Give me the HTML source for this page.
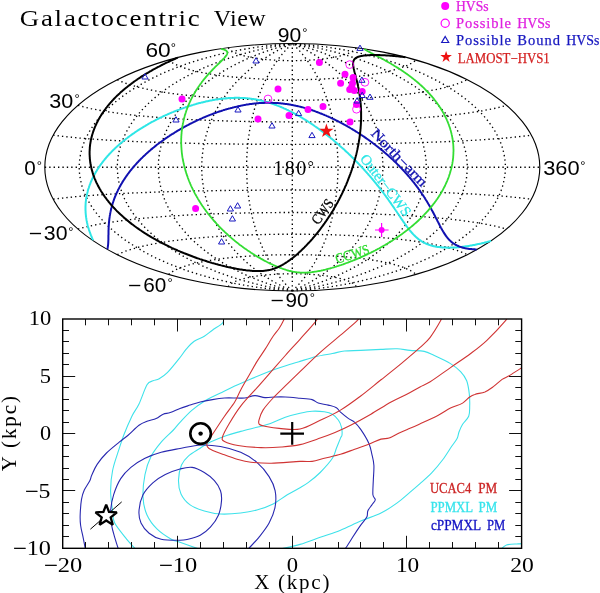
<!DOCTYPE html>
<html><head><meta charset="utf-8"><title>Galactocentric View</title>
<style>html,body{margin:0;padding:0;background:#fff;}svg{display:block;}</style></head>
<body><svg width="600" height="593" viewBox="0 0 600 593">
<rect width="600" height="593" fill="#fff"/>
<path d="M228.2,286.7 L228.5,286.3 L228.8,285.9 L229.1,285.5 L229.4,285.1 L229.8,284.8 L230.3,284.4 L230.8,284.0 L231.3,283.6 L231.8,283.3 L232.4,282.9 L233.0,282.6 L233.7,282.2 L234.4,281.9 L235.1,281.5 L235.9,281.2 L236.6,280.9 L237.5,280.6 L238.3,280.3 L239.2,280.0 L240.1,279.7 L241.0,279.4 L242.0,279.1 L243.0,278.8 L244.0,278.6 L245.1,278.3 L246.1,278.0 L247.2,277.8 L248.4,277.6 L249.5,277.3 L250.7,277.1 L251.8,276.9 L253.0,276.7 L254.3,276.5 L255.5,276.3 L256.8,276.1 L258.1,275.9 L259.4,275.7 L260.7,275.5 L262.0,275.4 L263.4,275.2 L264.7,275.1 L266.1,274.9 L267.5,274.8 L268.9,274.7 L270.3,274.6 L271.7,274.5 L273.1,274.4 L274.6,274.3 L276.0,274.2 L277.5,274.1 L278.9,274.0 L280.4,274.0 L281.9,273.9 L283.4,273.9 L284.8,273.8 L286.3,273.8 L287.8,273.8 L289.3,273.7 L290.8,273.7 L292.3,273.7 L293.8,273.7 L295.3,273.7 L296.8,273.8 L298.3,273.8 L299.8,273.8 L301.2,273.9 L302.7,273.9 L304.2,274.0 L305.7,274.0 L307.1,274.1 L308.6,274.2 L310.0,274.3 L311.5,274.4 L312.9,274.5 L314.3,274.6 L315.7,274.7 L317.1,274.8 L318.5,274.9 L319.9,275.1 L321.2,275.2 L322.6,275.4 L323.9,275.5 L325.2,275.7 L326.5,275.9 L327.8,276.1 L329.1,276.3 L330.3,276.5 L331.6,276.7 L332.8,276.9 L333.9,277.1 L335.1,277.3 L336.2,277.6 L337.4,277.8 L338.5,278.0 L339.5,278.3 L340.6,278.6 L341.6,278.8 L342.6,279.1 L343.6,279.4 L344.5,279.7 L345.4,280.0 L346.3,280.3 L347.1,280.6 L348.0,280.9 L348.7,281.2 L349.5,281.5 L350.2,281.9 L350.9,282.2 L351.6,282.6 L352.2,282.9 L352.8,283.3 L353.3,283.6 L353.8,284.0 L354.3,284.4 L354.8,284.8 L355.2,285.1 L355.5,285.5 L355.8,285.9 L356.1,286.3 L356.4,286.7 M168.6,274.4 L169.4,273.7 L170.3,273.0 L171.3,272.3 L172.3,271.7 L173.4,271.0 L174.6,270.4 L175.8,269.8 L177.1,269.2 L178.4,268.6 L179.8,268.0 L181.3,267.5 L182.8,266.9 L184.3,266.4 L185.9,265.9 L187.6,265.4 L189.2,264.9 L191.0,264.4 L192.8,263.9 L194.6,263.5 L196.4,263.1 L198.4,262.6 L200.3,262.2 L202.3,261.8 L204.3,261.4 L206.3,261.0 L208.4,260.7 L210.5,260.3 L212.7,260.0 L214.9,259.6 L217.1,259.3 L219.3,259.0 L221.6,258.7 L223.9,258.4 L226.2,258.1 L228.6,257.9 L230.9,257.6 L233.3,257.4 L235.7,257.2 L238.2,256.9 L240.6,256.7 L243.1,256.5 L245.6,256.3 L248.1,256.2 L250.6,256.0 L253.1,255.8 L255.7,255.7 L258.2,255.5 L260.8,255.4 L263.4,255.3 L266.0,255.2 L268.6,255.1 L271.2,255.0 L273.8,254.9 L276.5,254.9 L279.1,254.8 L281.7,254.8 L284.4,254.7 L287.0,254.7 L289.7,254.7 L292.3,254.7 L294.9,254.7 L297.6,254.7 L300.2,254.7 L302.9,254.8 L305.5,254.8 L308.1,254.9 L310.8,254.9 L313.4,255.0 L316.0,255.1 L318.6,255.2 L321.2,255.3 L323.8,255.4 L326.4,255.5 L328.9,255.7 L331.5,255.8 L334.0,256.0 L336.5,256.2 L339.0,256.3 L341.5,256.5 L344.0,256.7 L346.4,256.9 L348.9,257.2 L351.3,257.4 L353.7,257.6 L356.0,257.9 L358.4,258.1 L360.7,258.4 L363.0,258.7 L365.3,259.0 L367.5,259.3 L369.7,259.6 L371.9,260.0 L374.1,260.3 L376.2,260.7 L378.3,261.0 L380.3,261.4 L382.3,261.8 L384.3,262.2 L386.2,262.6 L388.2,263.1 L390.0,263.5 L391.8,263.9 L393.6,264.4 L395.4,264.9 L397.0,265.4 L398.7,265.9 L400.3,266.4 L401.8,266.9 L403.3,267.5 L404.8,268.0 L406.2,268.6 L407.5,269.2 L408.8,269.8 L410.0,270.4 L411.2,271.0 L412.3,271.7 L413.3,272.3 L414.3,273.0 L415.2,273.7 L416.0,274.4 M117.3,254.7 L119.0,253.9 L120.7,253.1 L122.5,252.4 L124.4,251.6 L126.3,250.9 L128.3,250.2 L130.3,249.6 L132.5,248.9 L134.7,248.3 L136.9,247.6 L139.2,247.0 L141.5,246.5 L143.9,245.9 L146.4,245.4 L148.9,244.8 L151.4,244.3 L154.0,243.8 L156.6,243.3 L159.3,242.9 L162.0,242.4 L164.8,242.0 L167.6,241.5 L170.4,241.1 L173.3,240.7 L176.2,240.4 L179.2,240.0 L182.1,239.6 L185.2,239.3 L188.2,239.0 L191.3,238.6 L194.4,238.3 L197.5,238.0 L200.6,237.8 L203.8,237.5 L207.0,237.2 L210.3,237.0 L213.5,236.8 L216.8,236.5 L220.1,236.3 L223.4,236.1 L226.7,235.9 L230.1,235.7 L233.4,235.6 L236.8,235.4 L240.2,235.3 L243.6,235.1 L247.0,235.0 L250.5,234.9 L253.9,234.7 L257.4,234.6 L260.9,234.6 L264.3,234.5 L267.8,234.4 L271.3,234.3 L274.8,234.3 L278.3,234.2 L281.8,234.2 L285.3,234.2 L288.8,234.2 L292.3,234.2 L295.8,234.2 L299.3,234.2 L302.8,234.2 L306.3,234.2 L309.8,234.3 L313.3,234.3 L316.8,234.4 L320.3,234.5 L323.7,234.6 L327.2,234.6 L330.7,234.7 L334.1,234.9 L337.6,235.0 L341.0,235.1 L344.4,235.3 L347.8,235.4 L351.2,235.6 L354.5,235.7 L357.9,235.9 L361.2,236.1 L364.5,236.3 L367.8,236.5 L371.1,236.8 L374.3,237.0 L377.6,237.2 L380.8,237.5 L384.0,237.8 L387.1,238.0 L390.2,238.3 L393.3,238.6 L396.4,239.0 L399.4,239.3 L402.5,239.6 L405.4,240.0 L408.4,240.4 L411.3,240.7 L414.2,241.1 L417.0,241.5 L419.8,242.0 L422.6,242.4 L425.3,242.9 L428.0,243.3 L430.6,243.8 L433.2,244.3 L435.7,244.8 L438.2,245.4 L440.7,245.9 L443.1,246.5 L445.4,247.0 L447.7,247.6 L449.9,248.3 L452.1,248.9 L454.3,249.6 L456.3,250.2 L458.3,250.9 L460.2,251.6 L462.1,252.4 L463.9,253.1 L465.6,253.9 L467.3,254.7 M78.0,229.1 L80.4,228.4 L83.0,227.7 L85.5,227.1 L88.2,226.4 L90.9,225.8 L93.6,225.3 L96.4,224.7 L99.3,224.2 L102.2,223.6 L105.2,223.1 L108.2,222.6 L111.3,222.2 L114.4,221.7 L117.5,221.3 L120.7,220.8 L123.9,220.4 L127.2,220.0 L130.5,219.6 L133.9,219.2 L137.2,218.9 L140.7,218.5 L144.1,218.2 L147.6,217.9 L151.1,217.6 L154.7,217.3 L158.3,217.0 L161.9,216.7 L165.6,216.4 L169.2,216.2 L172.9,215.9 L176.7,215.7 L180.4,215.5 L184.2,215.2 L188.0,215.0 L191.8,214.8 L195.7,214.6 L199.6,214.5 L203.5,214.3 L207.4,214.1 L211.3,214.0 L215.2,213.8 L219.2,213.7 L223.2,213.6 L227.2,213.4 L231.2,213.3 L235.2,213.2 L239.2,213.1 L243.3,213.0 L247.3,212.9 L251.4,212.9 L255.4,212.8 L259.5,212.7 L263.6,212.7 L267.7,212.6 L271.8,212.6 L275.9,212.6 L280.0,212.5 L284.1,212.5 L288.2,212.5 L292.3,212.5 L296.4,212.5 L300.5,212.5 L304.6,212.5 L308.7,212.6 L312.8,212.6 L316.9,212.6 L321.0,212.7 L325.1,212.7 L329.2,212.8 L333.2,212.9 L337.3,212.9 L341.3,213.0 L345.4,213.1 L349.4,213.2 L353.4,213.3 L357.4,213.4 L361.4,213.6 L365.4,213.7 L369.4,213.8 L373.3,214.0 L377.2,214.1 L381.1,214.3 L385.0,214.5 L388.9,214.6 L392.8,214.8 L396.6,215.0 L400.4,215.2 L404.2,215.5 L407.9,215.7 L411.7,215.9 L415.4,216.2 L419.0,216.4 L422.7,216.7 L426.3,217.0 L429.9,217.3 L433.5,217.6 L437.0,217.9 L440.5,218.2 L443.9,218.5 L447.4,218.9 L450.7,219.2 L454.1,219.6 L457.4,220.0 L460.7,220.4 L463.9,220.8 L467.1,221.3 L470.2,221.7 L473.3,222.2 L476.4,222.6 L479.4,223.1 L482.4,223.6 L485.3,224.2 L488.2,224.7 L491.0,225.3 L493.7,225.8 L496.4,226.4 L499.1,227.1 L501.6,227.7 L504.2,228.4 L506.6,229.1 M53.2,199.2 L56.3,198.8 L59.4,198.4 L62.5,198.1 L65.7,197.7 L69.0,197.4 L72.2,197.1 L75.6,196.7 L78.9,196.4 L82.3,196.1 L85.8,195.8 L89.3,195.6 L92.8,195.3 L96.3,195.1 L99.9,194.8 L103.6,194.6 L107.3,194.3 L111.0,194.1 L114.7,193.9 L118.5,193.7 L122.3,193.5 L126.1,193.3 L130.0,193.1 L133.9,192.9 L137.8,192.8 L141.8,192.6 L145.8,192.5 L149.8,192.3 L153.8,192.2 L157.9,192.0 L162.0,191.9 L166.1,191.8 L170.3,191.6 L174.4,191.5 L178.6,191.4 L182.8,191.3 L187.0,191.2 L191.3,191.1 L195.5,191.0 L199.8,190.9 L204.1,190.8 L208.4,190.8 L212.7,190.7 L217.1,190.6 L221.4,190.5 L225.8,190.5 L230.2,190.4 L234.6,190.4 L239.0,190.3 L243.4,190.3 L247.8,190.2 L252.2,190.2 L256.7,190.2 L261.1,190.1 L265.5,190.1 L270.0,190.1 L274.5,190.1 L278.9,190.1 L283.4,190.0 L287.8,190.0 L292.3,190.0 L296.8,190.0 L301.2,190.0 L305.7,190.1 L310.1,190.1 L314.6,190.1 L319.1,190.1 L323.5,190.1 L327.9,190.2 L332.4,190.2 L336.8,190.2 L341.2,190.3 L345.6,190.3 L350.0,190.4 L354.4,190.4 L358.8,190.5 L363.2,190.5 L367.5,190.6 L371.9,190.7 L376.2,190.8 L380.5,190.8 L384.8,190.9 L389.1,191.0 L393.3,191.1 L397.6,191.2 L401.8,191.3 L406.0,191.4 L410.2,191.5 L414.3,191.6 L418.5,191.8 L422.6,191.9 L426.7,192.0 L430.8,192.2 L434.8,192.3 L438.8,192.5 L442.8,192.6 L446.8,192.8 L450.7,192.9 L454.6,193.1 L458.5,193.3 L462.3,193.5 L466.1,193.7 L469.9,193.9 L473.6,194.1 L477.3,194.3 L481.0,194.6 L484.7,194.8 L488.3,195.1 L491.8,195.3 L495.3,195.6 L498.8,195.8 L502.3,196.1 L505.7,196.4 L509.0,196.7 L512.4,197.1 L515.6,197.4 L518.9,197.7 L522.1,198.1 L525.2,198.4 L528.3,198.8 L531.4,199.2 M44.8,167.2 L48.1,167.2 L51.4,167.2 L54.7,167.2 L58.1,167.2 L61.5,167.2 L65.0,167.2 L68.5,167.2 L72.0,167.2 L75.6,167.2 L79.2,167.2 L82.9,167.2 L86.6,167.2 L90.3,167.2 L94.1,167.2 L97.9,167.2 L101.7,167.2 L105.5,167.2 L109.4,167.2 L113.3,167.2 L117.3,167.2 L121.3,167.2 L125.3,167.2 L129.3,167.2 L133.4,167.2 L137.5,167.2 L141.6,167.2 L145.8,167.2 L149.9,167.2 L154.1,167.2 L158.4,167.2 L162.6,167.2 L166.9,167.2 L171.2,167.2 L175.5,167.2 L179.8,167.2 L184.1,167.2 L188.5,167.2 L192.9,167.2 L197.3,167.2 L201.7,167.2 L206.1,167.2 L210.6,167.2 L215.1,167.2 L219.5,167.2 L224.0,167.2 L228.5,167.2 L233.0,167.2 L237.5,167.2 L242.1,167.2 L246.6,167.2 L251.2,167.2 L255.7,167.2 L260.3,167.2 L264.8,167.2 L269.4,167.2 L274.0,167.2 L278.6,167.2 L283.1,167.2 L287.7,167.2 L292.3,167.2 L296.9,167.2 L301.5,167.2 L306.0,167.2 L310.6,167.2 L315.2,167.2 L319.8,167.2 L324.3,167.2 L328.9,167.2 L333.4,167.2 L338.0,167.2 L342.5,167.2 L347.1,167.2 L351.6,167.2 L356.1,167.2 L360.6,167.2 L365.1,167.2 L369.5,167.2 L374.0,167.2 L378.5,167.2 L382.9,167.2 L387.3,167.2 L391.7,167.2 L396.1,167.2 L400.5,167.2 L404.8,167.2 L409.1,167.2 L413.4,167.2 L417.7,167.2 L422.0,167.2 L426.2,167.2 L430.5,167.2 L434.7,167.2 L438.8,167.2 L443.0,167.2 L447.1,167.2 L451.2,167.2 L455.3,167.2 L459.3,167.2 L463.3,167.2 L467.3,167.2 L471.3,167.2 L475.2,167.2 L479.1,167.2 L482.9,167.2 L486.7,167.2 L490.5,167.2 L494.3,167.2 L498.0,167.2 L501.7,167.2 L505.4,167.2 L509.0,167.2 L512.6,167.2 L516.1,167.2 L519.6,167.2 L523.1,167.2 L526.5,167.2 L529.9,167.2 L533.2,167.2 L536.5,167.2 L539.8,167.2 M53.2,135.2 L56.3,135.6 L59.4,136.0 L62.5,136.3 L65.7,136.7 L69.0,137.0 L72.2,137.3 L75.6,137.7 L78.9,138.0 L82.3,138.3 L85.8,138.6 L89.3,138.8 L92.8,139.1 L96.3,139.3 L99.9,139.6 L103.6,139.8 L107.3,140.1 L111.0,140.3 L114.7,140.5 L118.5,140.7 L122.3,140.9 L126.1,141.1 L130.0,141.3 L133.9,141.5 L137.8,141.6 L141.8,141.8 L145.8,141.9 L149.8,142.1 L153.8,142.2 L157.9,142.4 L162.0,142.5 L166.1,142.6 L170.3,142.8 L174.4,142.9 L178.6,143.0 L182.8,143.1 L187.0,143.2 L191.3,143.3 L195.5,143.4 L199.8,143.5 L204.1,143.6 L208.4,143.6 L212.7,143.7 L217.1,143.8 L221.4,143.9 L225.8,143.9 L230.2,144.0 L234.6,144.0 L239.0,144.1 L243.4,144.1 L247.8,144.2 L252.2,144.2 L256.7,144.2 L261.1,144.3 L265.5,144.3 L270.0,144.3 L274.5,144.3 L278.9,144.3 L283.4,144.4 L287.8,144.4 L292.3,144.4 L296.8,144.4 L301.2,144.4 L305.7,144.3 L310.1,144.3 L314.6,144.3 L319.1,144.3 L323.5,144.3 L327.9,144.2 L332.4,144.2 L336.8,144.2 L341.2,144.1 L345.6,144.1 L350.0,144.0 L354.4,144.0 L358.8,143.9 L363.2,143.9 L367.5,143.8 L371.9,143.7 L376.2,143.6 L380.5,143.6 L384.8,143.5 L389.1,143.4 L393.3,143.3 L397.6,143.2 L401.8,143.1 L406.0,143.0 L410.2,142.9 L414.3,142.8 L418.5,142.6 L422.6,142.5 L426.7,142.4 L430.8,142.2 L434.8,142.1 L438.8,141.9 L442.8,141.8 L446.8,141.6 L450.7,141.5 L454.6,141.3 L458.5,141.1 L462.3,140.9 L466.1,140.7 L469.9,140.5 L473.6,140.3 L477.3,140.1 L481.0,139.8 L484.7,139.6 L488.3,139.3 L491.8,139.1 L495.3,138.8 L498.8,138.6 L502.3,138.3 L505.7,138.0 L509.0,137.7 L512.4,137.3 L515.6,137.0 L518.9,136.7 L522.1,136.3 L525.2,136.0 L528.3,135.6 L531.4,135.2 M78.0,105.3 L80.4,106.0 L83.0,106.7 L85.5,107.3 L88.2,108.0 L90.9,108.6 L93.6,109.1 L96.4,109.7 L99.3,110.2 L102.2,110.8 L105.2,111.3 L108.2,111.8 L111.3,112.2 L114.4,112.7 L117.5,113.1 L120.7,113.6 L123.9,114.0 L127.2,114.4 L130.5,114.8 L133.9,115.2 L137.2,115.5 L140.7,115.9 L144.1,116.2 L147.6,116.5 L151.1,116.8 L154.7,117.1 L158.3,117.4 L161.9,117.7 L165.6,118.0 L169.2,118.2 L172.9,118.5 L176.7,118.7 L180.4,118.9 L184.2,119.2 L188.0,119.4 L191.8,119.6 L195.7,119.8 L199.6,119.9 L203.5,120.1 L207.4,120.3 L211.3,120.4 L215.2,120.6 L219.2,120.7 L223.2,120.8 L227.2,121.0 L231.2,121.1 L235.2,121.2 L239.2,121.3 L243.3,121.4 L247.3,121.5 L251.4,121.5 L255.4,121.6 L259.5,121.7 L263.6,121.7 L267.7,121.8 L271.8,121.8 L275.9,121.8 L280.0,121.9 L284.1,121.9 L288.2,121.9 L292.3,121.9 L296.4,121.9 L300.5,121.9 L304.6,121.9 L308.7,121.8 L312.8,121.8 L316.9,121.8 L321.0,121.7 L325.1,121.7 L329.2,121.6 L333.2,121.5 L337.3,121.5 L341.3,121.4 L345.4,121.3 L349.4,121.2 L353.4,121.1 L357.4,121.0 L361.4,120.8 L365.4,120.7 L369.4,120.6 L373.3,120.4 L377.2,120.3 L381.1,120.1 L385.0,119.9 L388.9,119.8 L392.8,119.6 L396.6,119.4 L400.4,119.2 L404.2,118.9 L407.9,118.7 L411.7,118.5 L415.4,118.2 L419.0,118.0 L422.7,117.7 L426.3,117.4 L429.9,117.1 L433.5,116.8 L437.0,116.5 L440.5,116.2 L443.9,115.9 L447.4,115.5 L450.7,115.2 L454.1,114.8 L457.4,114.4 L460.7,114.0 L463.9,113.6 L467.1,113.1 L470.2,112.7 L473.3,112.2 L476.4,111.8 L479.4,111.3 L482.4,110.8 L485.3,110.2 L488.2,109.7 L491.0,109.1 L493.7,108.6 L496.4,108.0 L499.1,107.3 L501.6,106.7 L504.2,106.0 L506.6,105.3 M117.3,79.7 L119.0,80.5 L120.7,81.3 L122.5,82.0 L124.4,82.8 L126.3,83.5 L128.3,84.2 L130.3,84.8 L132.5,85.5 L134.7,86.1 L136.9,86.8 L139.2,87.4 L141.5,87.9 L143.9,88.5 L146.4,89.0 L148.9,89.6 L151.4,90.1 L154.0,90.6 L156.6,91.1 L159.3,91.5 L162.0,92.0 L164.8,92.4 L167.6,92.9 L170.4,93.3 L173.3,93.7 L176.2,94.0 L179.2,94.4 L182.1,94.8 L185.2,95.1 L188.2,95.4 L191.3,95.8 L194.4,96.1 L197.5,96.4 L200.6,96.6 L203.8,96.9 L207.0,97.2 L210.3,97.4 L213.5,97.6 L216.8,97.9 L220.1,98.1 L223.4,98.3 L226.7,98.5 L230.1,98.7 L233.4,98.8 L236.8,99.0 L240.2,99.1 L243.6,99.3 L247.0,99.4 L250.5,99.5 L253.9,99.7 L257.4,99.8 L260.9,99.8 L264.3,99.9 L267.8,100.0 L271.3,100.1 L274.8,100.1 L278.3,100.2 L281.8,100.2 L285.3,100.2 L288.8,100.2 L292.3,100.2 L295.8,100.2 L299.3,100.2 L302.8,100.2 L306.3,100.2 L309.8,100.1 L313.3,100.1 L316.8,100.0 L320.3,99.9 L323.7,99.8 L327.2,99.8 L330.7,99.7 L334.1,99.5 L337.6,99.4 L341.0,99.3 L344.4,99.1 L347.8,99.0 L351.2,98.8 L354.5,98.7 L357.9,98.5 L361.2,98.3 L364.5,98.1 L367.8,97.9 L371.1,97.6 L374.3,97.4 L377.6,97.2 L380.8,96.9 L384.0,96.6 L387.1,96.4 L390.2,96.1 L393.3,95.8 L396.4,95.4 L399.4,95.1 L402.5,94.8 L405.4,94.4 L408.4,94.0 L411.3,93.7 L414.2,93.3 L417.0,92.9 L419.8,92.4 L422.6,92.0 L425.3,91.5 L428.0,91.1 L430.6,90.6 L433.2,90.1 L435.7,89.6 L438.2,89.0 L440.7,88.5 L443.1,87.9 L445.4,87.4 L447.7,86.8 L449.9,86.1 L452.1,85.5 L454.3,84.8 L456.3,84.2 L458.3,83.5 L460.2,82.8 L462.1,82.0 L463.9,81.3 L465.6,80.5 L467.3,79.7 M168.6,60.0 L169.4,60.7 L170.3,61.4 L171.3,62.1 L172.3,62.7 L173.4,63.4 L174.6,64.0 L175.8,64.6 L177.1,65.2 L178.4,65.8 L179.8,66.4 L181.3,66.9 L182.8,67.5 L184.3,68.0 L185.9,68.5 L187.6,69.0 L189.2,69.5 L191.0,70.0 L192.8,70.5 L194.6,70.9 L196.4,71.3 L198.4,71.8 L200.3,72.2 L202.3,72.6 L204.3,73.0 L206.3,73.4 L208.4,73.7 L210.5,74.1 L212.7,74.4 L214.9,74.8 L217.1,75.1 L219.3,75.4 L221.6,75.7 L223.9,76.0 L226.2,76.3 L228.6,76.5 L230.9,76.8 L233.3,77.0 L235.7,77.2 L238.2,77.5 L240.6,77.7 L243.1,77.9 L245.6,78.1 L248.1,78.2 L250.6,78.4 L253.1,78.6 L255.7,78.7 L258.2,78.9 L260.8,79.0 L263.4,79.1 L266.0,79.2 L268.6,79.3 L271.2,79.4 L273.8,79.5 L276.5,79.5 L279.1,79.6 L281.7,79.6 L284.4,79.7 L287.0,79.7 L289.7,79.7 L292.3,79.7 L294.9,79.7 L297.6,79.7 L300.2,79.7 L302.9,79.6 L305.5,79.6 L308.1,79.5 L310.8,79.5 L313.4,79.4 L316.0,79.3 L318.6,79.2 L321.2,79.1 L323.8,79.0 L326.4,78.9 L328.9,78.7 L331.5,78.6 L334.0,78.4 L336.5,78.2 L339.0,78.1 L341.5,77.9 L344.0,77.7 L346.4,77.5 L348.9,77.2 L351.3,77.0 L353.7,76.8 L356.0,76.5 L358.4,76.3 L360.7,76.0 L363.0,75.7 L365.3,75.4 L367.5,75.1 L369.7,74.8 L371.9,74.4 L374.1,74.1 L376.2,73.7 L378.3,73.4 L380.3,73.0 L382.3,72.6 L384.3,72.2 L386.2,71.8 L388.2,71.3 L390.0,70.9 L391.8,70.5 L393.6,70.0 L395.4,69.5 L397.0,69.0 L398.7,68.5 L400.3,68.0 L401.8,67.5 L403.3,66.9 L404.8,66.4 L406.2,65.8 L407.5,65.2 L408.8,64.6 L410.0,64.0 L411.2,63.4 L412.3,62.7 L413.3,62.1 L414.3,61.4 L415.2,60.7 L416.0,60.0 M228.2,47.7 L228.5,48.1 L228.8,48.5 L229.1,48.9 L229.4,49.3 L229.8,49.6 L230.3,50.0 L230.8,50.4 L231.3,50.8 L231.8,51.1 L232.4,51.5 L233.0,51.8 L233.7,52.2 L234.4,52.5 L235.1,52.9 L235.9,53.2 L236.6,53.5 L237.5,53.8 L238.3,54.1 L239.2,54.4 L240.1,54.7 L241.0,55.0 L242.0,55.3 L243.0,55.6 L244.0,55.8 L245.1,56.1 L246.1,56.4 L247.2,56.6 L248.4,56.8 L249.5,57.1 L250.7,57.3 L251.8,57.5 L253.0,57.7 L254.3,57.9 L255.5,58.1 L256.8,58.3 L258.1,58.5 L259.4,58.7 L260.7,58.9 L262.0,59.0 L263.4,59.2 L264.7,59.3 L266.1,59.5 L267.5,59.6 L268.9,59.7 L270.3,59.8 L271.7,59.9 L273.1,60.0 L274.6,60.1 L276.0,60.2 L277.5,60.3 L278.9,60.4 L280.4,60.4 L281.9,60.5 L283.4,60.5 L284.8,60.6 L286.3,60.6 L287.8,60.6 L289.3,60.7 L290.8,60.7 L292.3,60.7 L293.8,60.7 L295.3,60.7 L296.8,60.6 L298.3,60.6 L299.8,60.6 L301.2,60.5 L302.7,60.5 L304.2,60.4 L305.7,60.4 L307.1,60.3 L308.6,60.2 L310.0,60.1 L311.5,60.0 L312.9,59.9 L314.3,59.8 L315.7,59.7 L317.1,59.6 L318.5,59.5 L319.9,59.3 L321.2,59.2 L322.6,59.0 L323.9,58.9 L325.2,58.7 L326.5,58.5 L327.8,58.3 L329.1,58.1 L330.3,57.9 L331.6,57.7 L332.8,57.5 L333.9,57.3 L335.1,57.1 L336.2,56.8 L337.4,56.6 L338.5,56.4 L339.5,56.1 L340.6,55.8 L341.6,55.6 L342.6,55.3 L343.6,55.0 L344.5,54.7 L345.4,54.4 L346.3,54.1 L347.1,53.8 L348.0,53.5 L348.7,53.2 L349.5,52.9 L350.2,52.5 L350.9,52.2 L351.6,51.8 L352.2,51.5 L352.8,51.1 L353.3,50.8 L353.8,50.4 L354.3,50.0 L354.8,49.6 L355.2,49.3 L355.5,48.9 L355.8,48.5 L356.1,48.1 L356.4,47.7 M292.3,290.9 L284.0,290.3 L275.7,289.5 L267.6,288.6 L259.6,287.6 L251.7,286.4 L243.8,285.1 L236.2,283.7 L228.6,282.1 L221.2,280.4 L213.9,278.6 L206.8,276.7 L199.8,274.7 L193.0,272.6 L186.3,270.4 L179.8,268.0 L173.5,265.6 L167.3,263.1 L161.4,260.5 L155.6,257.8 L150.0,255.0 L144.6,252.1 L139.4,249.1 L134.4,246.1 L129.6,243.0 L125.0,239.9 L120.6,236.6 L116.4,233.3 L112.5,230.0 L108.7,226.6 L105.2,223.1 L101.9,219.6 L98.8,216.1 L95.9,212.5 L93.2,208.8 L90.8,205.2 L88.6,201.5 L86.7,197.7 L84.9,194.0 L83.4,190.2 L82.1,186.4 L81.1,182.6 L80.3,178.7 L79.7,174.9 L79.3,171.0 L79.2,167.2 L79.3,163.4 L79.7,159.5 L80.3,155.7 L81.1,151.8 L82.1,148.0 L83.4,144.2 L84.9,140.4 L86.7,136.7 L88.6,132.9 L90.8,129.2 L93.2,125.6 L95.9,121.9 L98.8,118.3 L101.9,114.8 L105.2,111.3 L108.7,107.8 L112.5,104.4 L116.4,101.1 L120.6,97.8 L125.0,94.5 L129.6,91.4 L134.4,88.3 L139.4,85.3 L144.6,82.3 L150.0,79.4 L155.6,76.6 L161.4,73.9 L167.3,71.3 L173.5,68.8 L179.8,66.4 L186.3,64.0 L193.0,61.8 L199.8,59.7 L206.8,57.7 L213.9,55.8 L221.2,54.0 L228.6,52.3 L236.2,50.7 L243.8,49.3 L251.7,48.0 L259.6,46.8 L267.6,45.8 L275.7,44.9 L284.0,44.1 L292.3,43.5 M292.3,290.9 L284.8,289.8 L277.6,288.5 L270.4,287.2 L263.4,285.7 L256.6,284.1 L249.9,282.4 L243.3,280.6 L236.9,278.7 L230.6,276.7 L224.5,274.6 L218.6,272.5 L212.8,270.2 L207.2,267.9 L201.7,265.5 L196.4,263.0 L191.3,260.5 L186.3,257.9 L181.5,255.2 L176.9,252.5 L172.4,249.7 L168.1,246.8 L164.0,243.9 L160.1,240.9 L156.3,237.9 L152.7,234.8 L149.2,231.7 L146.0,228.6 L142.9,225.4 L140.0,222.1 L137.2,218.9 L134.7,215.6 L132.3,212.3 L130.1,208.9 L128.0,205.5 L126.2,202.1 L124.5,198.7 L123.0,195.2 L121.7,191.8 L120.5,188.3 L119.5,184.8 L118.7,181.3 L118.1,177.8 L117.7,174.3 L117.4,170.7 L117.3,167.2 L117.4,163.7 L117.7,160.1 L118.1,156.6 L118.7,153.1 L119.5,149.6 L120.5,146.1 L121.7,142.6 L123.0,139.2 L124.5,135.7 L126.2,132.3 L128.0,128.9 L130.1,125.5 L132.3,122.1 L134.7,118.8 L137.2,115.5 L140.0,112.3 L142.9,109.0 L146.0,105.8 L149.2,102.7 L152.7,99.6 L156.3,96.5 L160.1,93.5 L164.0,90.5 L168.1,87.6 L172.4,84.7 L176.9,81.9 L181.5,79.2 L186.3,76.5 L191.3,73.9 L196.4,71.4 L201.7,68.9 L207.2,66.5 L212.8,64.2 L218.6,61.9 L224.5,59.8 L230.6,57.7 L236.9,55.7 L243.3,53.8 L249.9,52.0 L256.6,50.3 L263.4,48.7 L270.4,47.2 L277.6,45.9 L284.8,44.6 L292.3,43.5 M292.3,290.9 L286.2,289.4 L280.4,287.7 L274.6,285.9 L269.0,284.1 L263.6,282.2 L258.3,280.2 L253.2,278.1 L248.2,276.0 L243.3,273.8 L238.6,271.5 L234.0,269.2 L229.6,266.8 L225.3,264.4 L221.1,261.9 L217.1,259.3 L213.2,256.7 L209.4,254.0 L205.8,251.3 L202.4,248.6 L199.0,245.8 L195.8,243.0 L192.7,240.1 L189.8,237.2 L187.0,234.2 L184.3,231.3 L181.8,228.2 L179.4,225.2 L177.1,222.1 L175.0,219.0 L172.9,215.9 L171.1,212.8 L169.3,209.6 L167.7,206.4 L166.2,203.2 L164.8,200.0 L163.6,196.8 L162.5,193.5 L161.5,190.3 L160.7,187.0 L160.0,183.7 L159.4,180.4 L158.9,177.1 L158.6,173.8 L158.4,170.5 L158.4,167.2 L158.4,163.9 L158.6,160.6 L158.9,157.3 L159.4,154.0 L160.0,150.7 L160.7,147.4 L161.5,144.1 L162.5,140.9 L163.6,137.6 L164.8,134.4 L166.2,131.2 L167.7,128.0 L169.3,124.8 L171.1,121.6 L172.9,118.5 L175.0,115.4 L177.1,112.3 L179.4,109.2 L181.8,106.2 L184.3,103.1 L187.0,100.2 L189.8,97.2 L192.7,94.3 L195.8,91.4 L199.0,88.6 L202.4,85.8 L205.8,83.1 L209.4,80.4 L213.2,77.7 L217.1,75.1 L221.1,72.5 L225.3,70.0 L229.6,67.6 L234.0,65.2 L238.6,62.9 L243.3,60.6 L248.2,58.4 L253.2,56.3 L258.3,54.2 L263.6,52.2 L269.0,50.3 L274.6,48.5 L280.4,46.7 L286.2,45.0 L292.3,43.5 M292.3,290.9 L288.0,289.0 L283.9,287.1 L279.9,285.0 L276.0,283.0 L272.2,280.8 L268.6,278.6 L265.1,276.4 L261.6,274.1 L258.3,271.7 L255.1,269.3 L252.0,266.9 L249.0,264.4 L246.1,261.9 L243.3,259.3 L240.6,256.7 L238.0,254.1 L235.5,251.4 L233.1,248.7 L230.8,245.9 L228.5,243.2 L226.4,240.4 L224.4,237.5 L222.4,234.7 L220.6,231.8 L218.8,228.9 L217.1,225.9 L215.5,223.0 L214.0,220.0 L212.6,217.0 L211.3,214.0 L210.0,210.9 L208.9,207.9 L207.8,204.8 L206.9,201.7 L206.0,198.6 L205.2,195.5 L204.4,192.4 L203.8,189.3 L203.2,186.1 L202.8,183.0 L202.4,179.8 L202.1,176.7 L201.9,173.5 L201.8,170.4 L201.7,167.2 L201.8,164.0 L201.9,160.9 L202.1,157.7 L202.4,154.6 L202.8,151.4 L203.2,148.3 L203.8,145.1 L204.4,142.0 L205.2,138.9 L206.0,135.8 L206.9,132.7 L207.8,129.6 L208.9,126.5 L210.0,123.5 L211.3,120.4 L212.6,117.4 L214.0,114.4 L215.5,111.4 L217.1,108.5 L218.8,105.5 L220.6,102.6 L222.4,99.7 L224.4,96.9 L226.4,94.0 L228.5,91.2 L230.8,88.5 L233.1,85.7 L235.5,83.0 L238.0,80.3 L240.6,77.7 L243.3,75.1 L246.1,72.5 L249.0,70.0 L252.0,67.5 L255.1,65.1 L258.3,62.7 L261.6,60.3 L265.1,58.0 L268.6,55.8 L272.2,53.6 L276.0,51.4 L279.9,49.4 L283.9,47.3 L288.0,45.4 L292.3,43.5 M292.3,290.9 L290.1,288.8 L288.0,286.7 L285.9,284.5 L283.9,282.2 L282.0,280.0 L280.1,277.6 L278.3,275.3 L276.6,272.9 L274.9,270.5 L273.3,268.0 L271.7,265.5 L270.2,263.0 L268.8,260.4 L267.4,257.8 L266.0,255.2 L264.7,252.5 L263.4,249.9 L262.2,247.1 L261.1,244.4 L260.0,241.6 L258.9,238.9 L257.9,236.1 L256.9,233.2 L256.0,230.4 L255.1,227.5 L254.3,224.6 L253.5,221.7 L252.7,218.8 L252.0,215.8 L251.4,212.9 L250.7,209.9 L250.2,206.9 L249.6,203.9 L249.2,200.9 L248.7,197.8 L248.3,194.8 L248.0,191.8 L247.6,188.7 L247.4,185.6 L247.1,182.6 L247.0,179.5 L246.8,176.4 L246.7,173.4 L246.6,170.3 L246.6,167.2 L246.6,164.1 L246.7,161.0 L246.8,158.0 L247.0,154.9 L247.1,151.8 L247.4,148.8 L247.6,145.7 L248.0,142.6 L248.3,139.6 L248.7,136.6 L249.2,133.5 L249.6,130.5 L250.2,127.5 L250.7,124.5 L251.4,121.5 L252.0,118.6 L252.7,115.6 L253.5,112.7 L254.3,109.8 L255.1,106.9 L256.0,104.0 L256.9,101.2 L257.9,98.3 L258.9,95.5 L260.0,92.8 L261.1,90.0 L262.2,87.3 L263.4,84.5 L264.7,81.9 L266.0,79.2 L267.4,76.6 L268.8,74.0 L270.2,71.4 L271.7,68.9 L273.3,66.4 L274.9,63.9 L276.6,61.5 L278.3,59.1 L280.1,56.8 L282.0,54.4 L283.9,52.2 L285.9,49.9 L288.0,47.7 L290.1,45.6 L292.3,43.5 M292.3,290.9 L292.3,288.8 L292.3,286.5 L292.3,284.3 L292.3,282.0 L292.3,279.7 L292.3,277.3 L292.3,274.9 L292.3,272.5 L292.3,270.1 L292.3,267.6 L292.3,265.0 L292.3,262.5 L292.3,259.9 L292.3,257.3 L292.3,254.7 L292.3,252.0 L292.3,249.3 L292.3,246.6 L292.3,243.9 L292.3,241.2 L292.3,238.4 L292.3,235.6 L292.3,232.7 L292.3,229.9 L292.3,227.0 L292.3,224.2 L292.3,221.3 L292.3,218.4 L292.3,215.4 L292.3,212.5 L292.3,209.5 L292.3,206.6 L292.3,203.6 L292.3,200.6 L292.3,197.6 L292.3,194.6 L292.3,191.6 L292.3,188.5 L292.3,185.5 L292.3,182.5 L292.3,179.4 L292.3,176.4 L292.3,173.3 L292.3,170.3 L292.3,167.2 L292.3,164.1 L292.3,161.1 L292.3,158.0 L292.3,155.0 L292.3,151.9 L292.3,148.9 L292.3,145.9 L292.3,142.8 L292.3,139.8 L292.3,136.8 L292.3,133.8 L292.3,130.8 L292.3,127.8 L292.3,124.9 L292.3,121.9 L292.3,119.0 L292.3,116.0 L292.3,113.1 L292.3,110.2 L292.3,107.4 L292.3,104.5 L292.3,101.7 L292.3,98.8 L292.3,96.0 L292.3,93.2 L292.3,90.5 L292.3,87.8 L292.3,85.1 L292.3,82.4 L292.3,79.7 L292.3,77.1 L292.3,74.5 L292.3,71.9 L292.3,69.4 L292.3,66.8 L292.3,64.3 L292.3,61.9 L292.3,59.5 L292.3,57.1 L292.3,54.7 L292.3,52.4 L292.3,50.1 L292.3,47.9 L292.3,45.6 L292.3,43.5 M292.3,290.9 L294.5,288.8 L296.6,286.7 L298.7,284.5 L300.7,282.2 L302.6,280.0 L304.5,277.6 L306.3,275.3 L308.0,272.9 L309.7,270.5 L311.3,268.0 L312.9,265.5 L314.4,263.0 L315.8,260.4 L317.2,257.8 L318.6,255.2 L319.9,252.5 L321.2,249.9 L322.4,247.1 L323.5,244.4 L324.6,241.6 L325.7,238.9 L326.7,236.1 L327.7,233.2 L328.6,230.4 L329.5,227.5 L330.3,224.6 L331.1,221.7 L331.9,218.8 L332.6,215.8 L333.2,212.9 L333.9,209.9 L334.4,206.9 L335.0,203.9 L335.4,200.9 L335.9,197.8 L336.3,194.8 L336.6,191.8 L337.0,188.7 L337.2,185.6 L337.5,182.6 L337.6,179.5 L337.8,176.4 L337.9,173.4 L338.0,170.3 L338.0,167.2 L338.0,164.1 L337.9,161.0 L337.8,158.0 L337.6,154.9 L337.5,151.8 L337.2,148.8 L337.0,145.7 L336.6,142.6 L336.3,139.6 L335.9,136.6 L335.4,133.5 L335.0,130.5 L334.4,127.5 L333.9,124.5 L333.2,121.5 L332.6,118.6 L331.9,115.6 L331.1,112.7 L330.3,109.8 L329.5,106.9 L328.6,104.0 L327.7,101.2 L326.7,98.3 L325.7,95.5 L324.6,92.8 L323.5,90.0 L322.4,87.3 L321.2,84.5 L319.9,81.9 L318.6,79.2 L317.2,76.6 L315.8,74.0 L314.4,71.4 L312.9,68.9 L311.3,66.4 L309.7,63.9 L308.0,61.5 L306.3,59.1 L304.5,56.8 L302.6,54.4 L300.7,52.2 L298.7,49.9 L296.6,47.7 L294.5,45.6 L292.3,43.5 M292.3,290.9 L296.6,289.0 L300.7,287.1 L304.7,285.0 L308.6,283.0 L312.4,280.8 L316.0,278.6 L319.5,276.4 L323.0,274.1 L326.3,271.7 L329.5,269.3 L332.6,266.9 L335.6,264.4 L338.5,261.9 L341.3,259.3 L344.0,256.7 L346.6,254.1 L349.1,251.4 L351.5,248.7 L353.8,245.9 L356.1,243.2 L358.2,240.4 L360.2,237.5 L362.2,234.7 L364.0,231.8 L365.8,228.9 L367.5,225.9 L369.1,223.0 L370.6,220.0 L372.0,217.0 L373.3,214.0 L374.6,210.9 L375.7,207.9 L376.8,204.8 L377.7,201.7 L378.6,198.6 L379.4,195.5 L380.2,192.4 L380.8,189.3 L381.4,186.1 L381.8,183.0 L382.2,179.8 L382.5,176.7 L382.7,173.5 L382.8,170.4 L382.9,167.2 L382.8,164.0 L382.7,160.9 L382.5,157.7 L382.2,154.6 L381.8,151.4 L381.4,148.3 L380.8,145.1 L380.2,142.0 L379.4,138.9 L378.6,135.8 L377.7,132.7 L376.8,129.6 L375.7,126.5 L374.6,123.5 L373.3,120.4 L372.0,117.4 L370.6,114.4 L369.1,111.4 L367.5,108.5 L365.8,105.5 L364.0,102.6 L362.2,99.7 L360.2,96.9 L358.2,94.0 L356.1,91.2 L353.8,88.5 L351.5,85.7 L349.1,83.0 L346.6,80.3 L344.0,77.7 L341.3,75.1 L338.5,72.5 L335.6,70.0 L332.6,67.5 L329.5,65.1 L326.3,62.7 L323.0,60.3 L319.5,58.0 L316.0,55.8 L312.4,53.6 L308.6,51.4 L304.7,49.4 L300.7,47.3 L296.6,45.4 L292.3,43.5 M292.3,290.9 L298.4,289.4 L304.2,287.7 L310.0,285.9 L315.6,284.1 L321.0,282.2 L326.3,280.2 L331.4,278.1 L336.4,276.0 L341.3,273.8 L346.0,271.5 L350.6,269.2 L355.0,266.8 L359.3,264.4 L363.5,261.9 L367.5,259.3 L371.4,256.7 L375.2,254.0 L378.8,251.3 L382.2,248.6 L385.6,245.8 L388.8,243.0 L391.9,240.1 L394.8,237.2 L397.6,234.2 L400.3,231.3 L402.8,228.2 L405.2,225.2 L407.5,222.1 L409.6,219.0 L411.7,215.9 L413.5,212.8 L415.3,209.6 L416.9,206.4 L418.4,203.2 L419.8,200.0 L421.0,196.8 L422.1,193.5 L423.1,190.3 L423.9,187.0 L424.6,183.7 L425.2,180.4 L425.7,177.1 L426.0,173.8 L426.2,170.5 L426.2,167.2 L426.2,163.9 L426.0,160.6 L425.7,157.3 L425.2,154.0 L424.6,150.7 L423.9,147.4 L423.1,144.1 L422.1,140.9 L421.0,137.6 L419.8,134.4 L418.4,131.2 L416.9,128.0 L415.3,124.8 L413.5,121.6 L411.7,118.5 L409.6,115.4 L407.5,112.3 L405.2,109.2 L402.8,106.2 L400.3,103.1 L397.6,100.2 L394.8,97.2 L391.9,94.3 L388.8,91.4 L385.6,88.6 L382.2,85.8 L378.8,83.1 L375.2,80.4 L371.4,77.7 L367.5,75.1 L363.5,72.5 L359.3,70.0 L355.0,67.6 L350.6,65.2 L346.0,62.9 L341.3,60.6 L336.4,58.4 L331.4,56.3 L326.3,54.2 L321.0,52.2 L315.6,50.3 L310.0,48.5 L304.2,46.7 L298.4,45.0 L292.3,43.5 M292.3,290.9 L299.8,289.8 L307.0,288.5 L314.2,287.2 L321.2,285.7 L328.0,284.1 L334.7,282.4 L341.3,280.6 L347.7,278.7 L354.0,276.7 L360.1,274.6 L366.0,272.5 L371.8,270.2 L377.4,267.9 L382.9,265.5 L388.2,263.0 L393.3,260.5 L398.3,257.9 L403.1,255.2 L407.7,252.5 L412.2,249.7 L416.5,246.8 L420.6,243.9 L424.5,240.9 L428.3,237.9 L431.9,234.8 L435.4,231.7 L438.6,228.6 L441.7,225.4 L444.6,222.1 L447.4,218.9 L449.9,215.6 L452.3,212.3 L454.5,208.9 L456.6,205.5 L458.4,202.1 L460.1,198.7 L461.6,195.2 L462.9,191.8 L464.1,188.3 L465.1,184.8 L465.9,181.3 L466.5,177.8 L466.9,174.3 L467.2,170.7 L467.3,167.2 L467.2,163.7 L466.9,160.1 L466.5,156.6 L465.9,153.1 L465.1,149.6 L464.1,146.1 L462.9,142.6 L461.6,139.2 L460.1,135.7 L458.4,132.3 L456.6,128.9 L454.5,125.5 L452.3,122.1 L449.9,118.8 L447.4,115.5 L444.6,112.3 L441.7,109.0 L438.6,105.8 L435.4,102.7 L431.9,99.6 L428.3,96.5 L424.5,93.5 L420.6,90.5 L416.5,87.6 L412.2,84.7 L407.7,81.9 L403.1,79.2 L398.3,76.5 L393.3,73.9 L388.2,71.4 L382.9,68.9 L377.4,66.5 L371.8,64.2 L366.0,61.9 L360.1,59.8 L354.0,57.7 L347.7,55.7 L341.3,53.8 L334.7,52.0 L328.0,50.3 L321.2,48.7 L314.2,47.2 L307.0,45.9 L299.8,44.6 L292.3,43.5 M292.3,290.9 L300.6,290.3 L308.9,289.5 L317.0,288.6 L325.0,287.6 L332.9,286.4 L340.8,285.1 L348.4,283.7 L356.0,282.1 L363.4,280.4 L370.7,278.6 L377.8,276.7 L384.8,274.7 L391.6,272.6 L398.3,270.4 L404.8,268.0 L411.1,265.6 L417.3,263.1 L423.2,260.5 L429.0,257.8 L434.6,255.0 L440.0,252.1 L445.2,249.1 L450.2,246.1 L455.0,243.0 L459.6,239.9 L464.0,236.6 L468.2,233.3 L472.1,230.0 L475.9,226.6 L479.4,223.1 L482.7,219.6 L485.8,216.1 L488.7,212.5 L491.4,208.8 L493.8,205.2 L496.0,201.5 L497.9,197.7 L499.7,194.0 L501.2,190.2 L502.5,186.4 L503.5,182.6 L504.3,178.7 L504.9,174.9 L505.3,171.0 L505.4,167.2 L505.3,163.4 L504.9,159.5 L504.3,155.7 L503.5,151.8 L502.5,148.0 L501.2,144.2 L499.7,140.4 L497.9,136.7 L496.0,132.9 L493.8,129.2 L491.4,125.6 L488.7,121.9 L485.8,118.3 L482.7,114.8 L479.4,111.3 L475.9,107.8 L472.1,104.4 L468.2,101.1 L464.0,97.8 L459.6,94.5 L455.0,91.4 L450.2,88.3 L445.2,85.3 L440.0,82.3 L434.6,79.4 L429.0,76.6 L423.2,73.9 L417.3,71.3 L411.1,68.8 L404.8,66.4 L398.3,64.0 L391.6,61.8 L384.8,59.7 L377.8,57.7 L370.7,55.8 L363.4,54.0 L356.0,52.3 L348.4,50.7 L340.8,49.3 L332.9,48.0 L325.0,46.8 L317.0,45.8 L308.9,44.9 L300.6,44.1 L292.3,43.5" stroke="#000" stroke-width="1.35" fill="none" stroke-dasharray="1.35 3.05" stroke-linecap="butt"/>
<ellipse cx="292.30" cy="167.20" rx="247.49" ry="123.74" fill="none" stroke="#000" stroke-width="1.1"/>
<path d="M93.1,240.3 L92.9,239.7 L92.6,239.1 L92.4,238.6 L92.1,238.0 L91.8,237.4 L91.6,236.8 L91.4,236.2 L91.1,235.6 L90.9,235.0 L90.6,234.4 L90.4,233.8 L90.2,233.2 L90.0,232.6 L89.7,231.9 L89.5,231.3 L89.3,230.7 L89.1,230.1 L88.9,229.5 L88.7,228.8 L88.5,228.2 L88.3,227.6 L88.1,227.0 L88.0,226.3 L87.8,225.7 L87.6,225.0 L87.5,224.4 L87.3,223.8 L87.2,223.1 L87.0,222.5 L86.9,221.8 L86.8,221.2 L86.6,220.5 L86.5,219.9 L86.4,219.2 L86.3,218.5 L86.2,217.9 L86.1,217.2 L86.0,216.6 L85.9,215.9 L85.9,215.2 L85.8,214.6 L85.7,213.9 L85.7,213.2 L85.6,212.6 L85.6,211.9 L85.6,211.2 L85.5,210.6 L85.5,209.9 L85.5,209.2 L85.5,208.5 L85.5,207.9 L85.5,207.2 L85.5,206.5 L85.5,205.8 L85.6,205.2 L85.6,204.5 L85.6,203.8 L85.7,203.1 L85.7,202.4 L85.8,201.7 L85.9,201.1 L86.0,200.4 L86.0,199.7 L86.1,199.0 L86.2,198.3 L86.3,197.7 L86.5,197.0 L86.6,196.3 L86.7,195.6 L86.9,194.9 L87.0,194.2 L87.2,193.5 L87.3,192.9 L87.5,192.2 L87.7,191.5 L87.8,190.8 L88.0,190.1 L88.2,189.4 L88.4,188.8 L88.7,188.1 L88.9,187.4 L89.1,186.7 L89.3,186.0 L89.6,185.3 L89.8,184.7 L90.1,184.0 L90.4,183.3 L90.6,182.6 L90.9,181.9 L91.2,181.3 L91.5,180.6 L91.8,179.9 L92.1,179.2 L92.4,178.5 L92.7,177.9 L93.1,177.2 L93.4,176.5 L93.8,175.9 L94.1,175.2 L94.5,174.5 L94.8,173.8 L95.2,173.2 L95.6,172.5 L96.0,171.8 L96.4,171.2 L96.8,170.5 L97.2,169.8 L97.6,169.2 L98.1,168.5 L98.5,167.9 L98.9,167.2 L99.4,166.5 L99.8,165.9 L100.3,165.2 L100.8,164.6 L101.2,163.9 L101.7,163.3 L102.2,162.6 L102.7,162.0 L103.2,161.3 L103.7,160.7 L104.2,160.1 L104.7,159.4 L105.3,158.8 L105.8,158.1 L106.3,157.5 L106.9,156.9 L107.4,156.2 L108.0,155.6 L108.6,155.0 L109.1,154.3 L109.7,153.7 L110.3,153.1 L110.9,152.5 L111.5,151.9 L112.1,151.2 L112.7,150.6 L113.3,150.0 L113.9,149.4 L114.6,148.8 L115.2,148.2 L115.8,147.6 L116.5,147.0 L117.1,146.4 L117.8,145.8 L118.5,145.2 L119.1,144.6 L119.8,144.0 L120.5,143.4 L121.2,142.8 L121.9,142.3 L122.6,141.7 L123.3,141.1 L124.0,140.5 L124.7,140.0 L125.4,139.4 L126.1,138.8 L126.8,138.3 L127.6,137.7 L128.3,137.1 L129.1,136.6 L129.8,136.0 L130.6,135.5 L131.3,134.9 L132.1,134.4 L132.8,133.8 L133.6,133.3 L134.4,132.8 L135.2,132.2 L136.0,131.7 L136.7,131.2 L137.5,130.6 L138.3,130.1 L139.1,129.6 L139.9,129.1 L140.7,128.6 L141.6,128.1 L142.4,127.6 L143.2,127.1 L144.0,126.6 L144.9,126.1 L145.7,125.6 L146.5,125.1 L147.4,124.6 L148.2,124.1 L149.0,123.6 L149.9,123.2 L150.7,122.7 L151.6,122.2 L152.5,121.7 L153.3,121.3 L154.2,120.8 L155.1,120.4 L155.9,119.9 L156.8,119.5 L157.7,119.0 L158.6,118.6 L159.4,118.1 L160.3,117.7 L161.2,117.3 L162.1,116.9 L163.0,116.4 L163.9,116.0 L164.8,115.6 L165.7,115.2 L166.6,114.8 L167.5,114.4 L168.4,114.0 L169.3,113.6 L170.2,113.2 L171.1,112.8 L172.0,112.4 L172.9,112.1 L173.8,111.7 L174.7,111.3 L175.6,111.0 L176.5,110.6 L177.5,110.2 L178.4,109.9 L179.3,109.6 L180.2,109.2 L181.1,108.9 L182.0,108.5 L183.0,108.2 L183.9,107.9 L184.8,107.6 L185.7,107.2 L186.6,106.9 L187.5,106.6 L188.5,106.3 L189.4,106.0 L190.3,105.7 L191.2,105.5 L192.1,105.2 L193.1,104.9 L194.0,104.6 L194.9,104.4 L195.8,104.1 L196.7,103.8 L197.6,103.6 L198.5,103.3 L199.5,103.1 L200.4,102.9 L201.3,102.6 L202.2,102.4 L203.1,102.2 L204.0,102.0 L204.9,101.8 L205.8,101.5 L206.7,101.3 L207.6,101.2 L208.5,101.0 L209.4,100.8 L210.3,100.6 L211.2,100.4 L212.1,100.3 L213.0,100.1 L213.9,99.9 L214.7,99.8 L215.6,99.6 L216.5,99.5 L217.4,99.4 L218.3,99.2 L219.1,99.1 L220.0,99.0 L220.9,98.9 L221.8,98.8 L222.6,98.7 L223.5,98.6 L224.3,98.5 L225.2,98.4 L226.1,98.3 L226.9,98.2 L227.8,98.2 L228.6,98.1 L229.5,98.1 L230.3,98.0 L231.1,98.0 L232.0,97.9 L232.8,97.9 L233.6,97.9 L234.5,97.8 L235.3,97.8 L236.1,97.8 L236.9,97.8 L237.8,97.8 L238.6,97.8 L239.4,97.8 L240.2,97.9 L241.0,97.9 L241.8,97.9 L242.6,98.0 L243.4,98.0 L244.2,98.1 L245.0,98.1 L245.8,98.2 L246.6,98.2 L247.4,98.3 L248.2,98.4 L249.0,98.5 L249.8,98.6 L250.5,98.7 L251.3,98.8 L252.1,98.9 L252.9,99.0 L253.6,99.1 L254.4,99.2 L255.2,99.3 L255.9,99.5 L256.7,99.6 L257.5,99.8 L258.2,99.9 L259.0,100.1 L259.7,100.2 L260.5,100.4 L261.2,100.6 L262.0,100.7 L262.7,100.9 L263.5,101.1 L264.2,101.3 L265.0,101.5 L265.7,101.7 L266.5,101.9 L267.2,102.1 L267.9,102.3 L268.7,102.5 L269.4,102.8 L270.1,103.0 L270.9,103.2 L271.6,103.5 L272.3,103.7 L273.0,104.0 L273.8,104.2 L274.5,104.5 L275.2,104.8 L275.9,105.0 L276.7,105.3 L277.4,105.6 L278.1,105.9 L278.8,106.1 L279.5,106.4 L280.2,106.7 L281.0,107.0 L281.7,107.3 L282.4,107.6 L283.1,107.9 L283.8,108.3 L284.5,108.6 L285.2,108.9 L285.9,109.2 L286.6,109.6 L287.3,109.9 L288.0,110.2 L288.7,110.6 L289.4,110.9 L290.1,111.3 L290.8,111.6 L291.5,112.0 L292.2,112.3 L292.9,112.7 L293.6,113.1 L294.3,113.5 L295.0,113.8 L295.7,114.2 L296.4,114.6 L297.1,115.0 L297.8,115.4 L298.5,115.7 L299.1,116.1 L299.8,116.5 L300.5,116.9 L301.2,117.3 L301.9,117.7 L302.6,118.2 L303.2,118.6 L303.9,119.0 L304.6,119.4 L305.3,119.8 L306.0,120.2 L306.6,120.7 L307.3,121.1 L308.0,121.5 L308.6,122.0 L309.3,122.4 L310.0,122.8 L310.7,123.3 L311.3,123.7 L312.0,124.2 L312.7,124.6 L313.3,125.1 L314.0,125.5 L314.6,126.0 L315.3,126.5 L316.0,126.9 L316.6,127.4 L317.3,127.8 L317.9,128.3 L318.6,128.8 L319.2,129.3 L319.9,129.7 L320.5,130.2 L321.2,130.7 L321.8,131.2 L322.5,131.6 L323.1,132.1 L323.8,132.6 L324.4,133.1 L325.0,133.6 L325.7,134.1 L326.3,134.6 L327.0,135.1 L327.6,135.6 L328.2,136.1 L328.9,136.6 L329.5,137.1 L330.1,137.6 L330.7,138.1 L331.4,138.6 L332.0,139.1 L332.6,139.6 L333.2,140.1 L333.8,140.6 L334.5,141.2 L335.1,141.7 L335.7,142.2 L336.3,142.7 L336.9,143.2 L337.5,143.8 L338.1,144.3 L338.7,144.8 L339.3,145.3 L339.9,145.9 L340.5,146.4 L341.1,146.9 L341.7,147.5 L342.3,148.0 L342.9,148.5 L343.5,149.1 L344.1,149.6 L344.7,150.1 L345.3,150.7 L345.8,151.2 L346.4,151.8 L347.0,152.3 L347.6,152.8 L348.2,153.4 L348.7,153.9 L349.3,154.5 L349.9,155.0 L350.4,155.6 L351.0,156.1 L351.6,156.7 L352.1,157.2 L352.7,157.8 L353.2,158.3 L353.8,158.9 L354.3,159.4 L354.9,160.0 L355.4,160.5 L356.0,161.1 L356.5,161.6 L357.1,162.2 L357.6,162.7 L358.1,163.3 L358.7,163.9 L359.2,164.4 L359.7,165.0 L360.3,165.5 L360.8,166.1 L361.3,166.6 L361.8,167.2 L361.8,167.2 L362.4,167.8 L362.9,168.3 L363.4,168.9 L363.9,169.4 L364.4,170.0 L364.9,170.6 L365.4,171.1 L365.9,171.7 L366.4,172.2 L366.9,172.8 L367.4,173.4 L367.9,173.9 L368.4,174.5 L368.9,175.1 L369.4,175.6 L369.9,176.2 L370.4,176.7 L370.9,177.3 L371.3,177.9 L371.8,178.4 L372.3,179.0 L372.8,179.6 L373.2,180.1 L373.7,180.7 L374.2,181.2 L374.6,181.8 L375.1,182.4 L375.5,182.9 L376.0,183.5 L376.4,184.0 L376.9,184.6 L377.3,185.2 L377.8,185.7 L378.2,186.3 L378.7,186.8 L379.1,187.4 L379.5,187.9 L380.0,188.5 L380.4,189.1 L380.8,189.6 L381.3,190.2 L381.7,190.7 L382.1,191.3 L382.5,191.8 L382.9,192.4 L383.4,192.9 L383.8,193.5 L384.2,194.0 L384.6,194.6 L385.0,195.1 L385.4,195.7 L385.8,196.2 L386.2,196.8 L386.6,197.3 L387.0,197.8 L387.4,198.4 L387.8,198.9 L388.2,199.5 L388.5,200.0 L388.9,200.5 L389.3,201.1 L389.7,201.6 L390.1,202.2 L390.4,202.7 L390.8,203.2 L391.2,203.7 L391.5,204.3 L391.9,204.8 L392.3,205.3 L392.6,205.9 L393.0,206.4 L393.4,206.9 L393.7,207.4 L394.1,207.9 L394.4,208.5 L394.8,209.0 L395.1,209.5 L395.5,210.0 L395.8,210.5 L396.2,211.0 L396.5,211.5 L396.9,212.0 L397.2,212.5 L397.5,213.0 L397.9,213.5 L398.2,214.0 L398.5,214.5 L398.9,215.0 L399.2,215.5 L399.5,216.0 L399.9,216.5 L400.2,217.0 L400.5,217.5 L400.8,218.0 L401.2,218.4 L401.5,218.9 L401.8,219.4 L402.1,219.9 L402.5,220.3 L402.8,220.8 L403.1,221.3 L403.4,221.7 L403.7,222.2 L404.1,222.6 L404.4,223.1 L404.7,223.5 L405.0,224.0 L405.3,224.4 L405.6,224.9 L406.0,225.3 L406.3,225.8 L406.6,226.2 L406.9,226.6 L407.2,227.0 L407.6,227.5 L407.9,227.9 L408.2,228.3 L408.5,228.7 L408.8,229.1 L409.2,229.5 L409.5,230.0 L409.8,230.4 L410.1,230.8 L410.5,231.1 L410.8,231.5 L411.1,231.9 L411.4,232.3 L411.8,232.7 L412.1,233.1 L412.5,233.4 L412.8,233.8 L413.1,234.2 L413.5,234.5 L413.8,234.9 L414.2,235.3 L414.5,235.6 L414.9,235.9 L415.2,236.3 L415.6,236.6 L416.0,237.0 L416.3,237.3 L416.7,237.6 L417.1,237.9 L417.4,238.2 L417.8,238.6 L418.2,238.9 L418.6,239.2 L419.0,239.5 L419.4,239.8 L419.8,240.0 L420.2,240.3 L420.6,240.6 L421.0,240.9 L421.4,241.1 L421.8,241.4 L422.3,241.7 L422.7,241.9 L423.1,242.2 L423.6,242.4 L424.0,242.7 L424.5,242.9 L425.0,243.1 L425.4,243.3 L425.9,243.6 L426.4,243.8 L426.9,244.0 L427.4,244.2 L427.9,244.4 L428.4,244.6 L428.9,244.8 L429.4,244.9 L429.9,245.1 L430.5,245.3 L431.0,245.4 L431.6,245.6 L432.1,245.8 L432.7,245.9 L433.2,246.0 L433.8,246.2 L434.4,246.3 L435.0,246.4 L435.6,246.5 L436.2,246.7 L436.8,246.8 L437.5,246.9 L438.1,247.0 L438.7,247.1 L439.4,247.1 L440.0,247.2 L440.7,247.3 L441.4,247.3 L442.0,247.4 L442.7,247.5 L443.4,247.5 L444.1,247.5 L444.8,247.6 L445.6,247.6 L446.3,247.6 L447.0,247.7 L447.8,247.7 L448.5,247.7 L449.3,247.7 L450.0,247.7 L450.8,247.6 L451.6,247.6 L452.4,247.6 L453.2,247.6 L454.0,247.5 L454.8,247.5 L455.6,247.4 L456.4,247.4 L457.3,247.3 L458.1,247.2 L458.9,247.2 L459.8,247.1 L460.7,247.0 L461.5,246.9 L462.4,246.8 L463.3,246.7 L464.2,246.6 L465.1,246.5 L466.0,246.3 L466.9,246.2 L467.8,246.1 L468.7,245.9 L469.6,245.8 L470.5,245.6 L471.5,245.5 L472.4,245.3 L473.4,245.1 L474.3,244.9 L475.3,244.7 L476.2,244.5 L477.2,244.3 L478.2,244.1 L479.1,243.9 L480.1,243.7 L481.1,243.5 L482.1,243.2 L483.1,243.0 L484.1,242.8 L485.1,242.5 L486.1,242.2 L487.1,242.0 L488.1,241.7 L489.1,241.4 L490.1,241.1 L491.1,240.8" fill="none" stroke="#2ee6e6" stroke-width="2.0" stroke-linejoin="round"/>
<path d="M107.3,249.3 L107.4,249.0 L107.5,248.6 L107.6,248.3 L107.6,247.9 L107.7,247.6 L107.8,247.2 L107.8,246.8 L107.9,246.4 L107.9,246.0 L108.0,245.7 L108.0,245.3 L108.1,244.9 L108.1,244.5 L108.2,244.1 L108.2,243.7 L108.2,243.2 L108.2,242.8 L108.3,242.4 L108.3,242.0 L108.3,241.6 L108.3,241.1 L108.3,240.7 L108.4,240.3 L108.4,239.8 L108.4,239.4 L108.4,238.9 L108.4,238.5 L108.4,238.0 L108.4,237.6 L108.4,237.1 L108.4,236.6 L108.4,236.2 L108.4,235.7 L108.4,235.2 L108.5,234.7 L108.5,234.3 L108.5,233.8 L108.5,233.3 L108.5,232.8 L108.5,232.3 L108.5,231.8 L108.5,231.3 L108.5,230.8 L108.5,230.3 L108.6,229.8 L108.6,229.3 L108.6,228.8 L108.6,228.3 L108.6,227.7 L108.7,227.2 L108.7,226.7 L108.7,226.2 L108.8,225.6 L108.8,225.1 L108.8,224.6 L108.9,224.0 L108.9,223.5 L108.9,223.0 L109.0,222.4 L109.0,221.9 L109.1,221.3 L109.2,220.8 L109.2,220.2 L109.3,219.7 L109.3,219.1 L109.4,218.6 L109.5,218.0 L109.6,217.5 L109.6,216.9 L109.7,216.4 L109.8,215.8 L109.9,215.2 L110.0,214.7 L110.1,214.1 L110.2,213.5 L110.3,212.9 L110.4,212.4 L110.5,211.8 L110.7,211.2 L110.8,210.6 L110.9,210.1 L111.0,209.5 L111.2,208.9 L111.3,208.3 L111.5,207.7 L111.6,207.2 L111.8,206.6 L111.9,206.0 L112.1,205.4 L112.3,204.8 L112.5,204.2 L112.6,203.6 L112.8,203.0 L113.0,202.4 L113.2,201.9 L113.4,201.3 L113.6,200.7 L113.8,200.1 L114.0,199.5 L114.2,198.9 L114.5,198.3 L114.7,197.7 L114.9,197.1 L115.2,196.5 L115.4,195.9 L115.7,195.3 L115.9,194.7 L116.2,194.1 L116.4,193.5 L116.7,192.9 L117.0,192.3 L117.3,191.7 L117.6,191.1 L117.8,190.5 L118.1,189.9 L118.4,189.3 L118.8,188.7 L119.1,188.1 L119.4,187.5 L119.7,186.9 L120.0,186.3 L120.4,185.7 L120.7,185.1 L121.0,184.5 L121.4,183.9 L121.8,183.3 L122.1,182.7 L122.5,182.1 L122.8,181.5 L123.2,180.9 L123.6,180.3 L124.0,179.7 L124.4,179.1 L124.8,178.5 L125.2,177.9 L125.6,177.3 L126.0,176.7 L126.4,176.1 L126.8,175.5 L127.3,174.9 L127.7,174.3 L128.1,173.7 L128.6,173.1 L129.0,172.5 L129.5,171.9 L129.9,171.3 L130.4,170.7 L130.9,170.1 L131.4,169.5 L131.8,169.0 L132.3,168.4 L132.8,167.8 L133.3,167.2 L133.8,166.6 L134.3,166.0 L134.8,165.4 L135.3,164.9 L135.8,164.3 L136.4,163.7 L136.9,163.1 L137.4,162.5 L138.0,162.0 L138.5,161.4 L139.1,160.8 L139.6,160.3 L140.2,159.7 L140.7,159.1 L141.3,158.5 L141.9,158.0 L142.5,157.4 L143.0,156.8 L143.6,156.3 L144.2,155.7 L144.8,155.2 L145.4,154.6 L146.0,154.0 L146.6,153.5 L147.2,152.9 L147.8,152.4 L148.5,151.8 L149.1,151.3 L149.7,150.7 L150.4,150.2 L151.0,149.6 L151.6,149.1 L152.3,148.6 L152.9,148.0 L153.6,147.5 L154.3,146.9 L154.9,146.4 L155.6,145.9 L156.3,145.3 L156.9,144.8 L157.6,144.3 L158.3,143.8 L159.0,143.2 L159.7,142.7 L160.4,142.2 L161.1,141.7 L161.8,141.2 L162.5,140.7 L163.2,140.2 L163.9,139.7 L164.6,139.2 L165.3,138.6 L166.1,138.1 L166.8,137.7 L167.5,137.2 L168.3,136.7 L169.0,136.2 L169.7,135.7 L170.5,135.2 L171.2,134.7 L172.0,134.2 L172.7,133.8 L173.5,133.3 L174.3,132.8 L175.0,132.3 L175.8,131.9 L176.6,131.4 L177.3,130.9 L178.1,130.5 L178.9,130.0 L179.7,129.6 L180.4,129.1 L181.2,128.7 L182.0,128.2 L182.8,127.8 L183.6,127.3 L184.4,126.9 L185.2,126.5 L186.0,126.0 L186.8,125.6 L187.6,125.2 L188.4,124.8 L189.2,124.3 L190.0,123.9 L190.8,123.5 L191.7,123.1 L192.5,122.7 L193.3,122.3 L194.1,121.9 L194.9,121.5 L195.8,121.1 L196.6,120.7 L197.4,120.3 L198.2,119.9 L199.1,119.6 L199.9,119.2 L200.7,118.8 L201.6,118.4 L202.4,118.1 L203.2,117.7 L204.1,117.3 L204.9,117.0 L205.8,116.6 L206.6,116.3 L207.5,115.9 L208.3,115.6 L209.1,115.3 L210.0,114.9 L210.8,114.6 L211.7,114.3 L212.5,114.0 L213.4,113.6 L214.2,113.3 L215.1,113.0 L215.9,112.7 L216.8,112.4 L217.6,112.1 L218.5,111.8 L219.3,111.5 L220.2,111.2 L221.1,111.0 L221.9,110.7 L222.8,110.4 L223.6,110.1 L224.5,109.9 L225.3,109.6 L226.2,109.4 L227.0,109.1 L227.9,108.9 L228.7,108.6 L229.6,108.4 L230.4,108.2 L231.3,107.9 L232.2,107.7 L233.0,107.5 L233.9,107.3 L234.7,107.1 L235.6,106.9 L236.4,106.7 L237.3,106.5 L238.1,106.3 L239.0,106.1 L239.8,105.9 L240.7,105.7 L241.5,105.6 L242.4,105.4 L243.2,105.2 L244.0,105.1 L244.9,104.9 L245.7,104.8 L246.6,104.6 L247.4,104.5 L248.3,104.4 L249.1,104.2 L249.9,104.1 L250.8,104.0 L251.6,103.9 L252.5,103.8 L253.3,103.7 L254.1,103.6 L255.0,103.5 L255.8,103.4 L256.6,103.3 L257.5,103.3 L258.3,103.2 L259.1,103.1 L260.0,103.1 L260.8,103.0 L261.6,103.0 L262.4,102.9 L263.3,102.9 L264.1,102.9 L264.9,102.8 L265.7,102.8 L266.6,102.8 L267.4,102.8 L268.2,102.8 L269.0,102.8 L269.8,102.8 L270.7,102.8 L271.5,102.8 L272.3,102.8 L273.1,102.9 L273.9,102.9 L274.7,102.9 L275.5,103.0 L276.4,103.0 L277.2,103.1 L278.0,103.1 L278.8,103.2 L279.6,103.2 L280.4,103.3 L281.2,103.4 L282.0,103.5 L282.8,103.6 L283.6,103.7 L284.4,103.8 L285.2,103.9 L286.0,104.0 L286.8,104.1 L287.6,104.2 L288.4,104.3 L289.2,104.5 L290.0,104.6 L290.8,104.7 L291.6,104.9 L292.4,105.0 L293.2,105.2 L294.0,105.4 L294.8,105.5 L295.6,105.7 L296.4,105.9 L297.2,106.0 L298.0,106.2 L298.8,106.4 L299.6,106.6 L300.4,106.8 L301.2,107.0 L302.0,107.2 L302.8,107.4 L303.6,107.6 L304.4,107.9 L305.1,108.1 L305.9,108.3 L306.7,108.5 L307.5,108.8 L308.3,109.0 L309.1,109.3 L309.9,109.5 L310.7,109.8 L311.4,110.0 L312.2,110.3 L313.0,110.6 L313.8,110.8 L314.6,111.1 L315.4,111.4 L316.1,111.7 L316.9,112.0 L317.7,112.3 L318.5,112.6 L319.3,112.9 L320.0,113.2 L320.8,113.5 L321.6,113.8 L322.4,114.1 L323.1,114.4 L323.9,114.7 L324.7,115.1 L325.5,115.4 L326.2,115.7 L327.0,116.1 L327.8,116.4 L328.6,116.7 L329.3,117.1 L330.1,117.4 L330.9,117.8 L331.6,118.1 L332.4,118.5 L333.1,118.9 L333.9,119.2 L334.7,119.6 L335.4,120.0 L336.2,120.4 L336.9,120.7 L337.7,121.1 L338.5,121.5 L339.2,121.9 L340.0,122.3 L340.7,122.7 L341.5,123.1 L342.2,123.5 L343.0,123.9 L343.7,124.3 L344.4,124.7 L345.2,125.1 L345.9,125.5 L346.7,125.9 L347.4,126.3 L348.1,126.8 L348.9,127.2 L349.6,127.6 L350.3,128.0 L351.1,128.5 L351.8,128.9 L352.5,129.3 L353.3,129.8 L354.0,130.2 L354.7,130.7 L355.4,131.1 L356.1,131.6 L356.8,132.0 L357.6,132.5 L358.3,132.9 L359.0,133.4 L359.7,133.8 L360.4,134.3 L361.1,134.8 L361.8,135.2 L362.5,135.7 L363.2,136.2 L363.9,136.6 L364.6,137.1 L365.3,137.6 L366.0,138.1 L366.7,138.6 L367.3,139.0 L368.0,139.5 L368.7,140.0 L369.4,140.5 L370.1,141.0 L370.7,141.5 L371.4,142.0 L372.1,142.5 L372.7,143.0 L373.4,143.5 L374.0,144.0 L374.7,144.5 L375.4,145.0 L376.0,145.5 L376.7,146.0 L377.3,146.5 L378.0,147.0 L378.6,147.5 L379.2,148.0 L379.9,148.5 L380.5,149.0 L381.1,149.6 L381.8,150.1 L382.4,150.6 L383.0,151.1 L383.6,151.6 L384.3,152.2 L384.9,152.7 L385.5,153.2 L386.1,153.7 L386.7,154.3 L387.3,154.8 L387.9,155.3 L388.5,155.8 L389.1,156.4 L389.7,156.9 L390.3,157.4 L390.9,158.0 L391.4,158.5 L392.0,159.1 L392.6,159.6 L393.2,160.1 L393.7,160.7 L394.3,161.2 L394.9,161.7 L395.4,162.3 L396.0,162.8 L396.6,163.4 L397.1,163.9 L397.6,164.5 L398.2,165.0 L398.7,165.6 L399.3,166.1 L399.8,166.7 L400.3,167.2 L400.3,167.2 L400.9,167.7 L401.4,168.3 L401.9,168.8 L402.4,169.4 L403.0,169.9 L403.5,170.5 L404.0,171.1 L404.5,171.6 L405.0,172.2 L405.5,172.7 L406.0,173.3 L406.5,173.8 L407.0,174.4 L407.4,174.9 L407.9,175.5 L408.4,176.0 L408.9,176.6 L409.4,177.1 L409.8,177.7 L410.3,178.2 L410.8,178.8 L411.2,179.4 L411.7,179.9 L412.1,180.5 L412.6,181.0 L413.0,181.6 L413.5,182.1 L413.9,182.7 L414.3,183.2 L414.8,183.8 L415.2,184.3 L415.6,184.9 L416.0,185.5 L416.5,186.0 L416.9,186.6 L417.3,187.1 L417.7,187.7 L418.1,188.2 L418.5,188.8 L418.9,189.3 L419.3,189.9 L419.7,190.4 L420.1,191.0 L420.4,191.5 L420.8,192.1 L421.2,192.6 L421.6,193.2 L421.9,193.7 L422.3,194.3 L422.7,194.8 L423.0,195.4 L423.4,195.9 L423.8,196.4 L424.1,197.0 L424.5,197.5 L424.8,198.1 L425.1,198.6 L425.5,199.2 L425.8,199.7 L426.1,200.2 L426.5,200.8 L426.8,201.3 L427.1,201.8 L427.4,202.4 L427.8,202.9 L428.1,203.4 L428.4,204.0 L428.7,204.5 L429.0,205.0 L429.3,205.6 L429.6,206.1 L429.9,206.6 L430.2,207.1 L430.5,207.6 L430.8,208.2 L431.1,208.7 L431.4,209.2 L431.6,209.7 L431.9,210.2 L432.2,210.7 L432.5,211.2 L432.7,211.8 L433.0,212.3 L433.3,212.8 L433.5,213.3 L433.8,213.8 L434.1,214.3 L434.3,214.8 L434.6,215.3 L434.8,215.8 L435.1,216.3 L435.3,216.7 L435.6,217.2 L435.8,217.7 L436.1,218.2 L436.3,218.7 L436.6,219.2 L436.8,219.6 L437.1,220.1 L437.3,220.6 L437.5,221.1 L437.8,221.5 L438.0,222.0 L438.3,222.4 L438.5,222.9 L438.7,223.4 L439.0,223.8 L439.2,224.3 L439.4,224.7 L439.6,225.2 L439.9,225.6 L440.1,226.1 L440.3,226.5 L440.6,226.9 L440.8,227.4 L441.0,227.8 L441.3,228.2 L441.5,228.6 L441.7,229.1 L442.0,229.5 L442.2,229.9 L442.4,230.3 L442.7,230.7 L442.9,231.1 L443.1,231.5 L443.4,231.9 L443.6,232.3 L443.8,232.7 L444.1,233.1 L444.3,233.5 L444.6,233.8 L444.8,234.2 L445.1,234.6 L445.3,235.0 L445.6,235.3 L445.8,235.7 L446.1,236.0 L446.4,236.4 L446.6,236.8 L446.9,237.1 L447.2,237.4 L447.4,237.8 L447.7,238.1 L448.0,238.4 L448.3,238.8 L448.6,239.1 L448.8,239.4 L449.1,239.7 L449.4,240.0 L449.7,240.3 L450.1,240.6 L450.4,240.9 L450.7,241.2 L451.0,241.5 L451.3,241.8 L451.7,242.1 L452.0,242.3 L452.3,242.6 L452.7,242.9 L453.0,243.1 L453.4,243.4 L453.8,243.6 L454.1,243.9 L454.5,244.1 L454.9,244.3 L455.3,244.6 L455.7,244.8 L456.1,245.0 L456.5,245.2 L456.9,245.4 L457.3,245.6 L457.7,245.8 L458.2,246.0 L458.6,246.2 L459.1,246.4 L459.5,246.6 L460.0,246.8 L460.4,246.9 L460.9,247.1 L461.4,247.2 L461.9,247.4 L462.4,247.5 L462.9,247.7 L463.4,247.8 L463.9,247.9 L464.5,248.1 L465.0,248.2 L465.5,248.3 L466.1,248.4 L466.7,248.5 L467.2,248.6 L467.8,248.7 L468.4,248.8 L469.0,248.9 L469.6,248.9 L470.2,249.0 L470.8,249.1 L471.4,249.1 L472.1,249.2 L472.7,249.2 L473.4,249.3 L474.0,249.3 L474.7,249.3 L475.3,249.4 L476.0,249.4 L476.7,249.4" fill="none" stroke="#1010b0" stroke-width="2.0" stroke-linejoin="round"/>
<path d="M221.0,48.8 L221.7,49.0 L222.4,49.1 L223.1,49.3 L223.7,49.5 L224.2,49.7 L224.7,49.9 L225.2,50.1 L225.6,50.3 L226.0,50.5 L226.3,50.8 L226.6,51.0 L226.8,51.3 L227.0,51.5 L227.2,51.8 L227.3,52.1 L227.3,52.4 L227.4,52.7 L227.4,53.0 L227.3,53.3 L227.2,53.6 L227.1,54.0 L227.0,54.3 L226.8,54.7 L226.6,55.1 L226.3,55.4 L226.1,55.8 L225.8,56.2 L225.4,56.6 L225.1,57.0 L224.7,57.4 L224.4,57.8 L224.0,58.3 L223.6,58.7 L223.1,59.2 L222.7,59.6 L222.2,60.1 L221.8,60.5 L221.3,61.0 L220.8,61.5 L220.3,62.0 L219.8,62.5 L219.3,63.0 L218.8,63.5 L218.2,64.0 L217.7,64.5 L217.2,65.1 L216.6,65.6 L216.1,66.1 L215.5,66.7 L215.0,67.2 L214.4,67.8 L213.9,68.3 L213.3,68.9 L212.8,69.5 L212.3,70.0 L211.7,70.6 L211.2,71.2 L210.6,71.8 L210.1,72.4 L209.5,72.9 L209.0,73.5 L208.4,74.1 L207.9,74.7 L207.4,75.4 L206.8,76.0 L206.3,76.6 L205.8,77.2 L205.3,77.8 L204.8,78.4 L204.2,79.1 L203.7,79.7 L203.2,80.3 L202.7,81.0 L202.2,81.6 L201.7,82.3 L201.3,82.9 L200.8,83.6 L200.3,84.2 L199.8,84.9 L199.4,85.5 L198.9,86.2 L198.4,86.9 L198.0,87.5 L197.5,88.2 L197.1,88.9 L196.7,89.6 L196.2,90.2 L195.8,90.9 L195.4,91.6 L195.0,92.3 L194.6,93.0 L194.2,93.7 L193.8,94.3 L193.4,95.0 L193.0,95.7 L192.6,96.4 L192.3,97.1 L191.9,97.8 L191.5,98.5 L191.2,99.2 L190.8,99.9 L190.5,100.7 L190.2,101.4 L189.8,102.1 L189.5,102.8 L189.2,103.5 L188.9,104.2 L188.6,104.9 L188.3,105.7 L188.0,106.4 L187.7,107.1 L187.4,107.8 L187.1,108.6 L186.9,109.3 L186.6,110.0 L186.3,110.8 L186.1,111.5 L185.9,112.2 L185.6,113.0 L185.4,113.7 L185.2,114.4 L184.9,115.2 L184.7,115.9 L184.5,116.7 L184.3,117.4 L184.1,118.2 L183.9,118.9 L183.8,119.7 L183.6,120.4 L183.4,121.2 L183.3,121.9 L183.1,122.7 L182.9,123.4 L182.8,124.2 L182.7,124.9 L182.5,125.7 L182.4,126.4 L182.3,127.2 L182.2,127.9 L182.1,128.7 L182.0,129.5 L181.9,130.2 L181.8,131.0 L181.7,131.7 L181.6,132.5 L181.6,133.3 L181.5,134.0 L181.4,134.8 L181.4,135.6 L181.3,136.3 L181.3,137.1 L181.3,137.9 L181.2,138.6 L181.2,139.4 L181.2,140.2 L181.2,140.9 L181.2,141.7 L181.2,142.5 L181.2,143.2 L181.2,144.0 L181.3,144.8 L181.3,145.6 L181.3,146.3 L181.4,147.1 L181.4,147.9 L181.5,148.6 L181.5,149.4 L181.6,150.2 L181.7,151.0 L181.7,151.7 L181.8,152.5 L181.9,153.3 L182.0,154.1 L182.1,154.8 L182.2,155.6 L182.3,156.4 L182.4,157.2 L182.6,157.9 L182.7,158.7 L182.8,159.5 L183.0,160.2 L183.1,161.0 L183.3,161.8 L183.5,162.6 L183.6,163.3 L183.8,164.1 L184.0,164.9 L184.2,165.7 L184.3,166.4 L184.5,167.2 L184.5,167.2 L184.7,168.0 L185.0,168.7 L185.2,169.5 L185.4,170.3 L185.6,171.1 L185.9,171.8 L186.1,172.6 L186.3,173.4 L186.6,174.1 L186.8,174.9 L187.1,175.7 L187.4,176.4 L187.7,177.2 L187.9,178.0 L188.2,178.7 L188.5,179.5 L188.8,180.3 L189.1,181.0 L189.4,181.8 L189.7,182.5 L190.1,183.3 L190.4,184.1 L190.7,184.8 L191.0,185.6 L191.4,186.3 L191.7,187.1 L192.1,187.8 L192.5,188.6 L192.8,189.4 L193.2,190.1 L193.6,190.9 L194.0,191.6 L194.3,192.4 L194.7,193.1 L195.1,193.9 L195.5,194.6 L196.0,195.4 L196.4,196.1 L196.8,196.8 L197.2,197.6 L197.7,198.3 L198.1,199.1 L198.5,199.8 L199.0,200.5 L199.4,201.3 L199.9,202.0 L200.4,202.8 L200.9,203.5 L201.3,204.2 L201.8,204.9 L202.3,205.7 L202.8,206.4 L203.3,207.1 L203.8,207.9 L204.3,208.6 L204.8,209.3 L205.4,210.0 L205.9,210.7 L206.4,211.5 L207.0,212.2 L207.5,212.9 L208.0,213.6 L208.6,214.3 L209.2,215.0 L209.7,215.7 L210.3,216.4 L210.9,217.1 L211.5,217.8 L212.0,218.5 L212.6,219.2 L213.2,219.9 L213.8,220.6 L214.4,221.3 L215.1,222.0 L215.7,222.7 L216.3,223.4 L216.9,224.1 L217.6,224.7 L218.2,225.4 L218.8,226.1 L219.5,226.8 L220.1,227.4 L220.8,228.1 L221.5,228.8 L222.1,229.4 L222.8,230.1 L223.5,230.8 L224.2,231.4 L224.9,232.1 L225.6,232.7 L226.3,233.4 L227.0,234.0 L227.7,234.7 L228.4,235.3 L229.1,236.0 L229.8,236.6 L230.6,237.2 L231.3,237.9 L232.0,238.5 L232.8,239.1 L233.5,239.8 L234.3,240.4 L235.0,241.0 L235.8,241.6 L236.5,242.2 L237.3,242.8 L238.1,243.4 L238.9,244.1 L239.6,244.7 L240.4,245.3 L241.2,245.8 L242.0,246.4 L242.8,247.0 L243.6,247.6 L244.4,248.2 L245.2,248.8 L246.1,249.3 L246.9,249.9 L247.7,250.5 L248.5,251.0 L249.4,251.6 L250.2,252.1 L251.0,252.7 L251.9,253.2 L252.7,253.8 L253.6,254.3 L254.4,254.8 L255.3,255.4 L256.1,255.9 L257.0,256.4 L257.8,256.9 L258.7,257.4 L259.6,257.9 L260.5,258.4 L261.3,258.9 L262.2,259.4 L263.1,259.9 L264.0,260.4 L264.8,260.9 L265.7,261.3 L266.6,261.8 L267.5,262.2 L268.4,262.7 L269.3,263.1 L270.2,263.6 L271.1,264.0 L272.0,264.4 L272.9,264.8 L273.8,265.2 L274.7,265.6 L275.6,266.0 L276.5,266.4 L277.4,266.8 L278.3,267.2 L279.2,267.5 L280.1,267.9 L281.0,268.2 L281.9,268.5 L282.8,268.8 L283.7,269.2 L284.6,269.4 L285.5,269.7 L286.4,270.0 L287.3,270.3 L288.2,270.5 L289.1,270.8 L290.0,271.0 L290.9,271.2 L291.8,271.4 L292.7,271.6 L293.6,271.8 L294.5,271.9 L295.4,272.1 L296.3,272.2 L297.2,272.3 L298.2,272.4 L299.1,272.5 L300.0,272.6 L301.0,272.6 L301.9,272.6 L302.9,272.7 L303.8,272.7 L304.8,272.7 L305.8,272.6 L306.7,272.6 L307.7,272.5 L308.7,272.5 L309.7,272.4 L310.7,272.3 L311.8,272.2 L312.8,272.0 L313.8,271.9 L314.9,271.7 L315.9,271.6 L317.0,271.4 L318.1,271.2 L319.2,271.0 L320.3,270.8 L321.4,270.5 L322.5,270.3 L323.6,270.0 L324.7,269.8 L325.8,269.5 L326.9,269.2 L328.1,268.9 L329.2,268.6 L330.4,268.3 L331.5,268.0 L332.7,267.6 L333.8,267.3 L335.0,266.9 L336.1,266.6 L337.3,266.2 L338.5,265.8 L339.6,265.4 L340.8,265.1 L342.0,264.7 L343.1,264.3 L344.3,263.8 L345.5,263.4 L346.6,263.0 L347.8,262.6 L349.0,262.1 L350.1,261.7 L351.3,261.2 L352.5,260.8 L353.6,260.3 L354.8,259.8 L356.0,259.4 L357.1,258.9 L358.3,258.4 L359.4,257.9 L360.6,257.4 L361.7,256.9 L362.8,256.4 L364.0,255.9 L365.1,255.4 L366.2,254.8 L367.4,254.3 L368.5,253.8 L369.6,253.2 L370.7,252.7 L371.8,252.1 L372.9,251.6 L374.0,251.0 L375.1,250.5 L376.2,249.9 L377.3,249.3 L378.3,248.7 L379.4,248.2 L380.5,247.6 L381.5,247.0 L382.6,246.4 L383.6,245.8 L384.7,245.2 L385.7,244.6 L386.7,244.0 L387.7,243.4 L388.8,242.8 L389.8,242.1 L390.8,241.5 L391.8,240.9 L392.7,240.3 L393.7,239.6 L394.7,239.0 L395.7,238.3 L396.6,237.7 L397.6,237.0 L398.5,236.4 L399.5,235.7 L400.4,235.1 L401.4,234.4 L402.3,233.8 L403.2,233.1 L404.1,232.4 L405.0,231.7 L405.9,231.1 L406.8,230.4 L407.6,229.7 L408.5,229.0 L409.4,228.3 L410.2,227.6 L411.1,226.9 L411.9,226.2 L412.8,225.5 L413.6,224.8 L414.4,224.1 L415.2,223.4 L416.0,222.7 L416.8,222.0 L417.6,221.3 L418.4,220.5 L419.1,219.8 L419.9,219.1 L420.7,218.4 L421.4,217.6 L422.1,216.9 L422.9,216.2 L423.6,215.4 L424.3,214.7 L425.0,213.9 L425.7,213.2 L426.4,212.5 L427.1,211.7 L427.8,211.0 L428.4,210.2 L429.1,209.4 L429.7,208.7 L430.4,207.9 L431.0,207.2 L431.6,206.4 L432.2,205.6 L432.8,204.9 L433.4,204.1 L434.0,203.3 L434.6,202.6 L435.2,201.8 L435.8,201.0 L436.3,200.2 L436.9,199.5 L437.4,198.7 L437.9,197.9 L438.5,197.1 L439.0,196.3 L439.5,195.5 L440.0,194.7 L440.5,193.9 L440.9,193.2 L441.4,192.4 L441.9,191.6 L442.3,190.8 L442.8,190.0 L443.2,189.2 L443.6,188.4 L444.0,187.6 L444.5,186.8 L444.9,186.0 L445.2,185.2 L445.6,184.4 L446.0,183.5 L446.4,182.7 L446.7,181.9 L447.1,181.1 L447.4,180.3 L447.7,179.5 L448.1,178.7 L448.4,177.9 L448.7,177.0 L449.0,176.2 L449.2,175.4 L449.5,174.6 L449.8,173.8 L450.0,173.0 L450.3,172.1 L450.5,171.3 L450.7,170.5 L451.0,169.7 L451.2,168.8 L451.4,168.0 L451.6,167.2 L451.8,166.4 L451.9,165.6 L452.1,164.7 L452.3,163.9 L452.4,163.1 L452.5,162.2 L452.7,161.4 L452.8,160.6 L452.9,159.8 L453.0,158.9 L453.1,158.1 L453.2,157.3 L453.2,156.5 L453.3,155.6 L453.3,154.8 L453.4,154.0 L453.4,153.1 L453.4,152.3 L453.5,151.5 L453.5,150.7 L453.5,149.8 L453.5,149.0 L453.4,148.2 L453.4,147.3 L453.4,146.5 L453.3,145.7 L453.3,144.9 L453.2,144.0 L453.1,143.2 L453.0,142.4 L452.9,141.6 L452.8,140.7 L452.7,139.9 L452.6,139.1 L452.4,138.3 L452.3,137.4 L452.1,136.6 L452.0,135.8 L451.8,135.0 L451.6,134.1 L451.4,133.3 L451.2,132.5 L451.0,131.7 L450.8,130.9 L450.5,130.0 L450.3,129.2 L450.1,128.4 L449.8,127.6 L449.5,126.8 L449.2,126.0 L449.0,125.2 L448.7,124.4 L448.3,123.5 L448.0,122.7 L447.7,121.9 L447.4,121.1 L447.0,120.3 L446.7,119.5 L446.3,118.7 L445.9,117.9 L445.5,117.1 L445.1,116.3 L444.7,115.5 L444.3,114.7 L443.9,113.9 L443.5,113.1 L443.0,112.4 L442.6,111.6 L442.1,110.8 L441.6,110.0 L441.2,109.2 L440.7,108.4 L440.2,107.6 L439.7,106.9 L439.2,106.1 L438.6,105.3 L438.1,104.5 L437.5,103.8 L437.0,103.0 L436.4,102.2 L435.8,101.5 L435.3,100.7 L434.7,100.0 L434.1,99.2 L433.5,98.4 L432.8,97.7 L432.2,96.9 L431.6,96.2 L430.9,95.5 L430.3,94.7 L429.6,94.0 L428.9,93.2 L428.2,92.5 L427.5,91.8 L426.8,91.0 L426.1,90.3 L425.4,89.6 L424.7,88.9 L424.0,88.1 L423.2,87.4 L422.5,86.7 L421.7,86.0 L420.9,85.3 L420.1,84.6 L419.4,83.9 L418.6,83.2 L417.8,82.5 L416.9,81.8 L416.1,81.1 L415.3,80.5 L414.5,79.8 L413.6,79.1 L412.8,78.4 L411.9,77.8 L411.1,77.1 L410.2,76.4 L409.3,75.8 L408.4,75.1 L407.5,74.5 L406.6,73.8 L405.7,73.2 L404.8,72.6 L403.9,71.9 L403.0,71.3 L402.1,70.7 L401.2,70.1 L400.2,69.5 L399.3,68.8 L398.3,68.2 L397.4,67.6 L396.4,67.1 L395.5,66.5 L394.5,65.9 L393.6,65.3 L392.6,64.7 L391.7,64.2 L390.7,63.6 L389.7,63.0 L388.8,62.5 L387.8,61.9 L386.9,61.4 L385.9,60.9 L384.9,60.3 L384.0,59.8 L383.0,59.3 L382.1,58.8 L381.2,58.3 L380.2,57.8 L379.3,57.3 L378.4,56.8 L377.5,56.3 L376.6,55.9 L375.7,55.4 L374.8,54.9 L374.0,54.5 L373.1,54.1 L372.3,53.6 L371.5,53.2 L370.7,52.8 L369.9,52.3 L369.2,51.9 L368.5,51.5 L367.8,51.2 L367.1,50.8 L366.5,50.4 L365.8,50.0 L365.3,49.7 L364.7,49.3 L364.2,49.0" fill="none" stroke="#33dd33" stroke-width="1.8" stroke-linejoin="round"/>
<path d="M177.9,57.6 L176.6,58.1 L175.4,58.7 L174.1,59.2 L172.9,59.8 L171.7,60.3 L170.4,60.9 L169.2,61.5 L168.0,62.1 L166.7,62.6 L165.5,63.2 L164.3,63.8 L163.1,64.4 L161.9,65.0 L160.7,65.6 L159.5,66.3 L158.2,66.9 L157.1,67.5 L155.9,68.2 L154.7,68.8 L153.5,69.4 L152.3,70.1 L151.2,70.8 L150.0,71.4 L148.9,72.1 L147.7,72.8 L146.6,73.4 L145.5,74.1 L144.3,74.8 L143.2,75.5 L142.1,76.2 L141.0,76.9 L140.0,77.6 L138.9,78.3 L137.8,79.0 L136.8,79.8 L135.7,80.5 L134.7,81.2 L133.7,81.9 L132.7,82.7 L131.7,83.4 L130.7,84.2 L129.7,84.9 L128.7,85.7 L127.7,86.4 L126.8,87.2 L125.8,88.0 L124.9,88.7 L124.0,89.5 L123.1,90.3 L122.2,91.1 L121.3,91.8 L120.4,92.6 L119.6,93.4 L118.7,94.2 L117.9,95.0 L117.0,95.8 L116.2,96.6 L115.4,97.4 L114.6,98.2 L113.8,99.0 L113.1,99.8 L112.3,100.7 L111.6,101.5 L110.8,102.3 L110.1,103.1 L109.4,104.0 L108.7,104.8 L108.0,105.6 L107.3,106.5 L106.7,107.3 L106.0,108.1 L105.4,109.0 L104.8,109.8 L104.2,110.7 L103.6,111.5 L103.0,112.4 L102.4,113.2 L101.8,114.1 L101.3,114.9 L100.8,115.8 L100.2,116.7 L99.7,117.5 L99.2,118.4 L98.7,119.3 L98.3,120.1 L97.8,121.0 L97.4,121.9 L96.9,122.7 L96.5,123.6 L96.1,124.5 L95.7,125.4 L95.3,126.2 L94.9,127.1 L94.6,128.0 L94.2,128.9 L93.9,129.8 L93.6,130.7 L93.2,131.5 L93.0,132.4 L92.7,133.3 L92.4,134.2 L92.1,135.1 L91.9,136.0 L91.7,136.9 L91.4,137.8 L91.2,138.6 L91.0,139.5 L90.8,140.4 L90.7,141.3 L90.5,142.2 L90.4,143.1 L90.2,144.0 L90.1,144.9 L90.0,145.8 L89.9,146.7 L89.8,147.6 L89.8,148.5 L89.7,149.4 L89.7,150.3 L89.6,151.2 L89.6,152.1 L89.6,152.9 L89.6,153.8 L89.6,154.7 L89.7,155.6 L89.7,156.5 L89.8,157.4 L89.8,158.3 L89.9,159.2 L90.0,160.1 L90.1,161.0 L90.2,161.9 L90.3,162.8 L90.5,163.7 L90.6,164.5 L90.8,165.4 L91.0,166.3 L91.2,167.2 L91.2,167.2 L91.4,168.1 L91.6,169.0 L91.8,169.9 L92.1,170.7 L92.3,171.6 L92.6,172.5 L92.8,173.4 L93.1,174.3 L93.4,175.1 L93.7,176.0 L94.1,176.9 L94.4,177.8 L94.7,178.6 L95.1,179.5 L95.5,180.4 L95.8,181.2 L96.2,182.1 L96.6,183.0 L97.1,183.8 L97.5,184.7 L97.9,185.6 L98.4,186.4 L98.8,187.3 L99.3,188.1 L99.8,189.0 L100.3,189.8 L100.8,190.7 L101.3,191.5 L101.9,192.4 L102.4,193.2 L103.0,194.0 L103.5,194.9 L104.1,195.7 L104.7,196.6 L105.3,197.4 L105.9,198.2 L106.5,199.0 L107.1,199.9 L107.8,200.7 L108.4,201.5 L109.1,202.3 L109.8,203.2 L110.5,204.0 L111.2,204.8 L111.9,205.6 L112.6,206.4 L113.3,207.2 L114.1,208.0 L114.8,208.8 L115.6,209.6 L116.3,210.4 L117.1,211.2 L117.9,211.9 L118.7,212.7 L119.5,213.5 L120.3,214.3 L121.2,215.1 L122.0,215.8 L122.9,216.6 L123.7,217.4 L124.6,218.1 L125.5,218.9 L126.4,219.6 L127.3,220.4 L128.2,221.1 L129.1,221.9 L130.0,222.6 L131.0,223.4 L131.9,224.1 L132.9,224.8 L133.8,225.5 L134.8,226.3 L135.8,227.0 L136.8,227.7 L137.8,228.4 L138.8,229.1 L139.8,229.8 L140.9,230.5 L141.9,231.2 L142.9,231.9 L144.0,232.6 L145.1,233.3 L146.1,234.0 L147.2,234.6 L148.3,235.3 L149.4,236.0 L150.5,236.6 L151.6,237.3 L152.7,237.9 L153.9,238.6 L155.0,239.2 L156.2,239.9 L157.3,240.5 L158.5,241.1 L159.6,241.8 L160.8,242.4 L162.0,243.0 L163.2,243.6 L164.4,244.2 L165.6,244.8 L166.8,245.4 L168.0,246.0 L169.2,246.6 L170.4,247.2 L171.7,247.8 L172.9,248.3 L174.1,248.9 L175.4,249.5 L176.7,250.0 L177.9,250.6 L179.2,251.1 L180.4,251.7 L181.7,252.2 L183.0,252.7 L184.3,253.3 L185.6,253.8 L186.9,254.3 L188.2,254.8 L189.5,255.3 L190.8,255.8 L192.1,256.3 L193.4,256.8 L194.7,257.2 L196.0,257.7 L197.3,258.2 L198.7,258.6 L200.0,259.1 L201.3,259.5 L202.6,260.0 L204.0,260.4 L205.3,260.8 L206.6,261.3 L207.9,261.7 L209.3,262.1 L210.6,262.5 L211.9,262.9 L213.3,263.2 L214.6,263.6 L215.9,264.0 L217.2,264.3 L218.5,264.7 L219.9,265.0 L221.2,265.4 L222.5,265.7 L223.8,266.0 L225.1,266.4 L226.4,266.7 L227.7,267.0 L228.9,267.2 L230.2,267.5 L231.5,267.8 L232.8,268.1 L234.0,268.3 L235.2,268.5 L236.5,268.8 L237.7,269.0 L238.9,269.2 L240.1,269.4 L241.3,269.6 L242.5,269.8 L243.7,270.0 L244.8,270.1 L246.0,270.3 L247.1,270.4 L248.2,270.5 L249.3,270.6 L250.4,270.7 L251.5,270.8 L252.5,270.9 L253.6,271.0 L254.6,271.0 L255.6,271.1 L256.6,271.1 L257.6,271.1 L258.6,271.1 L259.5,271.1 L260.5,271.1 L261.4,271.0 L262.3,271.0 L263.2,270.9 L264.1,270.8 L264.9,270.7 L265.8,270.6 L266.6,270.5 L267.4,270.3 L268.2,270.2 L269.0,270.0 L269.8,269.9 L270.6,269.7 L271.4,269.5 L272.1,269.3 L272.9,269.0 L273.6,268.8 L274.3,268.6 L275.1,268.3 L275.8,268.0 L276.5,267.7 L277.2,267.5 L277.9,267.2 L278.6,266.8 L279.2,266.5 L279.9,266.2 L280.6,265.8 L281.3,265.5 L281.9,265.1 L282.6,264.8 L283.2,264.4 L283.9,264.0 L284.5,263.6 L285.2,263.2 L285.8,262.8 L286.4,262.4 L287.1,262.0 L287.7,261.5 L288.3,261.1 L289.0,260.7 L289.6,260.2 L290.2,259.8 L290.8,259.3 L291.4,258.8 L292.1,258.4 L292.7,257.9 L293.3,257.4 L293.9,256.9 L294.5,256.4 L295.1,255.9 L295.7,255.4 L296.3,254.9 L296.9,254.4 L297.5,253.9 L298.1,253.4 L298.6,252.8 L299.2,252.3 L299.8,251.8 L300.4,251.2 L301.0,250.7 L301.5,250.2 L302.1,249.6 L302.7,249.1 L303.3,248.5 L303.8,247.9 L304.4,247.4 L305.0,246.8 L305.5,246.2 L306.1,245.7 L306.6,245.1 L307.2,244.5 L307.7,243.9 L308.3,243.3 L308.8,242.8 L309.4,242.2 L309.9,241.6 L310.5,241.0 L311.0,240.4 L311.5,239.8 L312.1,239.2 L312.6,238.6 L313.1,237.9 L313.6,237.3 L314.2,236.7 L314.7,236.1 L315.2,235.5 L315.7,234.8 L316.2,234.2 L316.8,233.6 L317.3,233.0 L317.8,232.3 L318.3,231.7 L318.8,231.1 L319.3,230.4 L319.8,229.8 L320.3,229.1 L320.7,228.5 L321.2,227.8 L321.7,227.2 L322.2,226.5 L322.7,225.9 L323.2,225.2 L323.6,224.6 L324.1,223.9 L324.6,223.3 L325.0,222.6 L325.5,221.9 L326.0,221.3 L326.4,220.6 L326.9,219.9 L327.3,219.2 L327.8,218.6 L328.2,217.9 L328.7,217.2 L329.1,216.5 L329.6,215.9 L330.0,215.2 L330.4,214.5 L330.9,213.8 L331.3,213.1 L331.7,212.4 L332.1,211.8 L332.6,211.1 L333.0,210.4 L333.4,209.7 L333.8,209.0 L334.2,208.3 L334.6,207.6 L335.0,206.9 L335.4,206.2 L335.8,205.5 L336.2,204.8 L336.6,204.1 L337.0,203.4 L337.4,202.7 L337.8,202.0 L338.1,201.3 L338.5,200.6 L338.9,199.9 L339.3,199.2 L339.6,198.4 L340.0,197.7 L340.4,197.0 L340.7,196.3 L341.1,195.6 L341.4,194.9 L341.8,194.2 L342.1,193.4 L342.5,192.7 L342.8,192.0 L343.1,191.3 L343.5,190.6 L343.8,189.8 L344.1,189.1 L344.5,188.4 L344.8,187.7 L345.1,186.9 L345.4,186.2 L345.8,185.5 L346.1,184.8 L346.4,184.0 L346.7,183.3 L347.0,182.6 L347.3,181.9 L347.6,181.1 L347.9,180.4 L348.2,179.7 L348.4,178.9 L348.7,178.2 L349.0,177.5 L349.3,176.7 L349.6,176.0 L349.8,175.3 L350.1,174.5 L350.4,173.8 L350.6,173.1 L350.9,172.3 L351.2,171.6 L351.4,170.9 L351.7,170.1 L351.9,169.4 L352.1,168.7 L352.4,167.9 L352.6,167.2 L352.9,166.5 L353.1,165.7 L353.3,165.0 L353.5,164.3 L353.8,163.5 L354.0,162.8 L354.2,162.0 L354.4,161.3 L354.6,160.6 L354.8,159.8 L355.0,159.1 L355.2,158.4 L355.4,157.6 L355.6,156.9 L355.8,156.1 L356.0,155.4 L356.2,154.7 L356.4,153.9 L356.5,153.2 L356.7,152.5 L356.9,151.7 L357.0,151.0 L357.2,150.3 L357.4,149.5 L357.5,148.8 L357.7,148.1 L357.8,147.3 L358.0,146.6 L358.1,145.9 L358.3,145.1 L358.4,144.4 L358.5,143.7 L358.7,142.9 L358.8,142.2 L358.9,141.5 L359.0,140.7 L359.1,140.0 L359.3,139.3 L359.4,138.5 L359.5,137.8 L359.6,137.1 L359.7,136.4 L359.8,135.6 L359.9,134.9 L360.0,134.2 L360.1,133.5 L360.1,132.7 L360.2,132.0 L360.3,131.3 L360.4,130.6 L360.4,129.8 L360.5,129.1 L360.6,128.4 L360.6,127.7 L360.7,127.0 L360.7,126.2 L360.8,125.5 L360.8,124.8 L360.9,124.1 L360.9,123.4 L360.9,122.7 L361.0,122.0 L361.0,121.3 L361.0,120.5 L361.1,119.8 L361.1,119.1 L361.1,118.4 L361.1,117.7 L361.1,117.0 L361.1,116.3 L361.1,115.6 L361.1,114.9 L361.1,114.2 L361.1,113.5 L361.1,112.8 L361.1,112.1 L361.1,111.4 L361.0,110.7 L361.0,110.0 L361.0,109.3 L361.0,108.7 L360.9,108.0 L360.9,107.3 L360.9,106.6 L360.8,105.9 L360.8,105.2 L360.7,104.6 L360.7,103.9 L360.6,103.2 L360.5,102.5 L360.5,101.9 L360.4,101.2 L360.3,100.5 L360.3,99.9 L360.2,99.2 L360.1,98.5 L360.0,97.9 L359.9,97.2 L359.9,96.6 L359.8,95.9 L359.7,95.3 L359.6,94.6 L359.5,94.0 L359.4,93.3 L359.3,92.7 L359.2,92.0 L359.1,91.4 L358.9,90.7 L358.8,90.1 L358.7,89.5 L358.6,88.8 L358.5,88.2 L358.3,87.6 L358.2,87.0 L358.1,86.4 L358.0,85.7 L357.8,85.1 L357.7,84.5 L357.6,83.9 L357.4,83.3 L357.3,82.7 L357.1,82.1 L357.0,81.5 L356.8,80.9 L356.7,80.3 L356.6,79.8 L356.4,79.2 L356.3,78.6 L356.1,78.0 L356.0,77.5 L355.8,76.9 L355.7,76.3 L355.5,75.8 L355.4,75.2 L355.2,74.7 L355.1,74.1 L355.0,73.6 L354.8,73.0 L354.7,72.5 L354.5,72.0 L354.4,71.5 L354.3,71.0 L354.2,70.4 L354.0,69.9 L353.9,69.4 L353.8,68.9 L353.7,68.5 L353.6,68.0 L353.5,67.5 L353.4,67.0 L353.3,66.6 L353.3,66.1 L353.2,65.7 L353.2,65.2 L353.1,64.8 L353.1,64.4 L353.1,63.9 L353.1,63.5 L353.1,63.1 L353.1,62.7 L353.2,62.4 L353.2,62.0 L353.3,61.6 L353.4,61.2 L353.5,60.9 L353.7,60.6 L353.8,60.2 L354.0,59.9 L354.2,59.6 L354.4,59.3 L354.7,59.0 L355.0,58.7 L355.3,58.4 L355.6,58.2 L356.0,57.9 L356.4,57.7 L356.8,57.5 L357.3,57.2 L357.8,57.0 L358.3,56.8 L358.9,56.6 L359.5,56.5 L360.1,56.3 L360.8,56.1 L361.5,56.0 L362.2,55.9 L363.0,55.7 L363.8,55.6 L364.6,55.5 L365.5,55.4 L366.4,55.4 L367.3,55.3 L368.3,55.2 L369.3,55.2 L370.3,55.1 L371.4,55.1 L372.5,55.1 L373.6,55.0 L374.7,55.0 L375.9,55.0 L377.1,55.1 L378.3,55.1 L379.6,55.1 L380.8,55.2 L382.1,55.2 L383.5,55.3 L384.8,55.3 L386.2,55.4 L387.5,55.5 L388.9,55.6 L390.4,55.7 L391.8,55.8 L393.2,55.9 L394.7,56.1 L396.2,56.2 L397.7,56.3 L399.2,56.5 L400.7,56.7 L402.3,56.8 L403.8,57.0 L405.4,57.2" fill="none" stroke="#000000" stroke-width="2.0" stroke-linejoin="round"/>
<path d="M182.0,99.0 m-3.5,0 a3.5,3.5 0 1,0 7,0 a3.5,3.5 0 1,0 -7,0 M278.0,89.0 m-3.5,0 a3.5,3.5 0 1,0 7,0 a3.5,3.5 0 1,0 -7,0 M258.0,119.0 m-3.5,0 a3.5,3.5 0 1,0 7,0 a3.5,3.5 0 1,0 -7,0 M195.6,208.4 m-3.5,0 a3.5,3.5 0 1,0 7,0 a3.5,3.5 0 1,0 -7,0 M319.4,62.6 m-3.5,0 a3.5,3.5 0 1,0 7,0 a3.5,3.5 0 1,0 -7,0 M345.0,74.2 m-3.5,0 a3.5,3.5 0 1,0 7,0 a3.5,3.5 0 1,0 -7,0 M353.1,77.5 m-3.5,0 a3.5,3.5 0 1,0 7,0 a3.5,3.5 0 1,0 -7,0 M340.6,83.3 m-3.5,0 a3.5,3.5 0 1,0 7,0 a3.5,3.5 0 1,0 -7,0 M352.5,83.3 m-3.5,0 a3.5,3.5 0 1,0 7,0 a3.5,3.5 0 1,0 -7,0 M351.8,86.4 m-3.5,0 a3.5,3.5 0 1,0 7,0 a3.5,3.5 0 1,0 -7,0 M349.7,89.4 m-3.5,0 a3.5,3.5 0 1,0 7,0 a3.5,3.5 0 1,0 -7,0 M354.3,90.4 m-3.5,0 a3.5,3.5 0 1,0 7,0 a3.5,3.5 0 1,0 -7,0 M362.2,91.4 m-3.5,0 a3.5,3.5 0 1,0 7,0 a3.5,3.5 0 1,0 -7,0 M356.5,104.6 m-3.5,0 a3.5,3.5 0 1,0 7,0 a3.5,3.5 0 1,0 -7,0 M323.0,106.4 m-3.5,0 a3.5,3.5 0 1,0 7,0 a3.5,3.5 0 1,0 -7,0 M308.0,109.6 m-3.5,0 a3.5,3.5 0 1,0 7,0 a3.5,3.5 0 1,0 -7,0 M289.0,115.6 m-3.5,0 a3.5,3.5 0 1,0 7,0 a3.5,3.5 0 1,0 -7,0 M350.0,122.0 m-3.5,0 a3.5,3.5 0 1,0 7,0 a3.5,3.5 0 1,0 -7,0" fill="#ff00ff"/>
<path d="M268.0,99.0 m-3.9,0 a3.9,3.9 0 1,0 7.8,0 a3.9,3.9 0 1,0 -7.8,0 M349.7,64.6 m-3.9,0 a3.9,3.9 0 1,0 7.8,0 a3.9,3.9 0 1,0 -7.8,0 M364.9,82.3 m-3.9,0 a3.9,3.9 0 1,0 7.8,0 a3.9,3.9 0 1,0 -7.8,0 M356.5,109.2 m-3.9,0 a3.9,3.9 0 1,0 7.8,0 a3.9,3.9 0 1,0 -7.8,0" fill="none" stroke="#ff00ff" stroke-width="0.9"/>
<path d="M145.0,73.7 L148.1,79.0 L141.9,79.0 Z M256.0,57.7 L259.1,63.0 L252.9,63.0 Z M238.0,106.7 L241.1,112.0 L234.9,112.0 Z M176.0,116.7 L179.1,122.0 L172.9,122.0 Z M272.0,122.7 L275.1,128.0 L268.9,128.0 Z M230.4,205.7 L233.5,211.0 L227.3,211.0 Z M237.6,202.7 L240.7,208.0 L234.5,208.0 Z M232.4,215.7 L235.5,221.0 L229.3,221.0 Z M221.6,238.7 L224.7,244.0 L218.5,244.0 Z M360.0,45.1 L363.1,50.4 L356.9,50.4 Z M361.9,77.0 L365.0,82.3 L358.8,82.3 Z M362.2,92.2 L365.3,97.5 L359.1,97.5 Z M370.0,94.0 L373.1,99.3 L366.9,99.3 Z M357.1,97.7 L360.2,103.0 L354.0,103.0 Z M298.6,110.3 L301.7,115.6 L295.5,115.6 Z M312.0,132.3 L315.1,137.6 L308.9,137.6 Z" fill="none" stroke="#1818c0" stroke-width="1" stroke-linejoin="miter"/>
<path d="M326.4,123.5 L328.1,128.7 L333.5,128.7 L329.1,131.9 L330.8,137.1 L326.4,133.9 L322.0,137.1 L323.7,131.9 L319.3,128.7 L324.7,128.7Z" fill="#ee1111"/>
<path d="M375,230 H388.6 M381.6,223 V237" stroke="#ff00ff" stroke-width="1.2"/>
<circle cx="381.6" cy="230" r="3" fill="#ff00ff"/>
<text transform="translate(19.68,26.3) scale(1.12,1)" x="0" y="0" style="font-family:'Liberation Serif',serif;font-size:24px" textLength="160.8" lengthAdjust="spacing">Galactocentric</text>
<text x="213.75" y="26.3" style="font-family:'Liberation Serif',serif;font-size:24px" textLength="51.8" lengthAdjust="spacing">View</text>
<text style="font-family:'Liberation Sans',sans-serif;font-size:19.5px"><tspan x="277.8" y="42.0" textLength="23.5" lengthAdjust="spacingAndGlyphs">90</tspan><tspan x="302.2" y="37.4" style="font-size:13px">°</tspan></text>
<text style="font-family:'Liberation Sans',sans-serif;font-size:19.5px"><tspan x="145.4" y="57.0" textLength="25.3" lengthAdjust="spacingAndGlyphs">60</tspan><tspan x="170.7" y="52.4" style="font-size:13px">°</tspan></text>
<text style="font-family:'Liberation Sans',sans-serif;font-size:19.5px"><tspan x="49.2" y="108.0" textLength="24.0" lengthAdjust="spacingAndGlyphs">30</tspan><tspan x="74.4" y="103.4" style="font-size:13px">°</tspan></text>
<text style="font-family:'Liberation Sans',sans-serif;font-size:19.5px"><tspan x="24.2" y="174.5" textLength="11.5" lengthAdjust="spacingAndGlyphs">0</tspan><tspan x="36.7" y="169.9" style="font-size:13px">°</tspan></text>
<text style="font-family:'Liberation Sans',sans-serif;font-size:19.5px"><tspan x="543.2" y="174.5" textLength="36.5" lengthAdjust="spacingAndGlyphs">360</tspan><tspan x="580.2" y="169.9" style="font-size:13px">°</tspan></text>
<text style="font-family:'Liberation Sans',sans-serif;font-size:19.5px"><tspan x="28.7" y="240.1" textLength="13.4" lengthAdjust="spacingAndGlyphs">−</tspan><tspan x="43.8" y="240.1" textLength="23.7" lengthAdjust="spacingAndGlyphs">30</tspan><tspan x="68.2" y="235.5" style="font-size:13px">°</tspan></text>
<text style="font-family:'Liberation Sans',sans-serif;font-size:19.5px"><tspan x="128.1" y="291.6" textLength="13.4" lengthAdjust="spacingAndGlyphs">−</tspan><tspan x="143.2" y="291.6" textLength="23.1" lengthAdjust="spacingAndGlyphs">60</tspan><tspan x="167.6" y="287.0" style="font-size:13px">°</tspan></text>
<text style="font-family:'Liberation Sans',sans-serif;font-size:19.5px"><tspan x="270.5" y="306.6" textLength="13.4" lengthAdjust="spacingAndGlyphs">−</tspan><tspan x="285.6" y="306.6" textLength="23.0" lengthAdjust="spacingAndGlyphs">90</tspan><tspan x="309.7" y="302.0" style="font-size:13px">°</tspan></text>
<text style="font-family:'Liberation Serif',serif;font-size:20px"><tspan x="273.2" y="174.7" textLength="33" lengthAdjust="spacing">180</tspan><tspan x="307.4" y="171.6" style="font-size:16px">°</tspan></text>
<text transform="translate(322.3,211.5) rotate(-54.0)" x="0" y="0" text-anchor="middle" dominant-baseline="central" style="font-family:'Liberation Serif',serif;font-size:14.5px;fill:#000;stroke:#000;stroke-width:0.3px" textLength="27.5" lengthAdjust="spacingAndGlyphs">CWS</text>
<text transform="translate(399.5,157.5) rotate(46.0)" x="0" y="0" text-anchor="middle" dominant-baseline="central" style="font-family:'Liberation Serif',serif;font-size:14.5px;fill:#1010b0;stroke:#1010b0;stroke-width:0.3px" textLength="74.0" lengthAdjust="spacingAndGlyphs">North−arm</text>
<text transform="translate(386.0,185.0) rotate(52.5)" x="0" y="0" text-anchor="middle" dominant-baseline="central" style="font-family:'Liberation Serif',serif;font-size:14.5px;fill:#2ee6e6;stroke:#2ee6e6;stroke-width:0.3px" textLength="74.0" lengthAdjust="spacingAndGlyphs">Outer−CWS</text>
<text transform="translate(352.3,254.2) rotate(-17.5)" x="0" y="0" text-anchor="middle" dominant-baseline="central" style="font-family:'Liberation Serif',serif;font-size:14px;fill:#2fdc2f;stroke:#2fdc2f;stroke-width:0.3px" textLength="35.0" lengthAdjust="spacingAndGlyphs">CCWS</text>
<circle cx="445.2" cy="6" r="4" fill="#ff00ff"/>
<circle cx="445.2" cy="23.2" r="4.1" fill="none" stroke="#ff00ff" stroke-width="1.2"/>
<path d="M445.2,36.5 L448.7,42.5 L441.7,42.5 Z" fill="none" stroke="#1818c0" stroke-width="1.2"/>
<path d="M446.1,50.9 L447.5,55.1 L451.9,55.1 L448.3,57.7 L449.7,61.9 L446.1,59.3 L442.5,61.9 L443.9,57.7 L440.3,55.1 L444.7,55.1Z" fill="#ee1111"/>
<text x="456.00" y="10.5" style="font-family:'Liberation Serif',serif;font-size:14.5px;fill:#e020e0;stroke:#e020e0;stroke-width:0.25px" textLength="32.66" lengthAdjust="spacingAndGlyphs">HVSs</text>
<text x="455.90" y="28.0" style="font-family:'Liberation Serif',serif;font-size:14.5px;fill:#e020e0;stroke:#e020e0;stroke-width:0.25px" textLength="55.04" lengthAdjust="spacing">Possible</text>
<text x="517.30" y="28.0" style="font-family:'Liberation Serif',serif;font-size:14.5px;fill:#e020e0;stroke:#e020e0;stroke-width:0.25px" textLength="33.06" lengthAdjust="spacingAndGlyphs">HVSs</text>
<text x="455.90" y="45.1" style="font-family:'Liberation Serif',serif;font-size:14.5px;fill:#1818c0;stroke:#1818c0;stroke-width:0.25px" textLength="55.04" lengthAdjust="spacing">Possible</text>
<text x="517.30" y="45.1" style="font-family:'Liberation Serif',serif;font-size:14.5px;fill:#1818c0;stroke:#1818c0;stroke-width:0.25px" textLength="42.67" lengthAdjust="spacing">Bound</text>
<text x="566.30" y="45.1" style="font-family:'Liberation Serif',serif;font-size:14.5px;fill:#1818c0;stroke:#1818c0;stroke-width:0.25px" textLength="33.06" lengthAdjust="spacingAndGlyphs">HVSs</text>
<text x="457.70" y="63.0" style="font-family:'Liberation Serif',serif;font-size:14.5px;fill:#d42020;stroke:#d42020;stroke-width:0.25px" textLength="92.06" lengthAdjust="spacingAndGlyphs">LAMOST−HVS1</text>
<defs><clipPath id="pc"><rect x="62.7" y="319.0" width="458.9" height="229.3"/></clipPath></defs>
<g clip-path="url(#pc)" fill="none" stroke-width="1.1" stroke-linejoin="round">
<path d="M223.5,318.0 C223.3,318.9 224.3,321.1 222.5,323.1 C220.7,325.1 215.4,328.0 212.4,330.2 C209.4,332.4 207.3,334.4 204.3,336.3 C201.3,338.2 197.2,339.1 194.2,341.3 C191.1,343.5 188.4,346.7 186.0,349.4 C183.6,352.1 183.1,353.6 180.0,357.5 C176.9,361.4 170.8,369.1 167.3,372.7 C163.8,376.2 161.6,377.4 159.2,378.8 C156.8,380.2 155.0,379.8 153.0,380.8 C151.0,381.8 149.3,380.9 147.0,384.8 C144.7,388.7 141.5,398.8 139.0,404.0 C136.5,409.2 134.4,411.0 131.9,416.2 C129.4,421.4 126.0,429.3 123.8,435.0 C121.6,440.7 120.6,444.3 118.7,450.2 C116.8,456.1 113.9,463.8 112.6,470.5 C111.2,477.2 110.6,483.9 110.6,490.7 C110.6,497.4 111.9,505.6 112.6,511.0 C113.3,516.4 112.3,518.4 114.7,523.1 C117.1,527.8 123.2,534.8 126.8,539.3 C130.4,543.8 134.9,548.2 136.5,550.0" stroke="#3ee2ea"/>
<path d="M500.0,550.0 C501.1,549.2 503.6,546.0 506.5,545.0 C509.4,544.0 514.6,544.1 517.5,543.9 C520.4,543.6 522.9,543.6 524.0,543.5" stroke="#3ee2ea"/>
<path d="M202.0,550.0 C198.3,548.7 185.1,544.1 180.0,542.3 C174.9,540.5 175.1,541.5 171.3,539.3 C167.5,537.1 161.2,533.2 157.2,529.2 C153.1,525.2 149.4,520.4 147.0,515.0 C144.6,509.6 143.3,503.6 143.0,496.8 C142.7,490.1 143.7,481.2 145.0,474.5 C146.3,467.8 148.4,461.7 151.1,456.3 C153.8,450.9 157.5,446.5 161.2,442.1 C164.9,437.7 170.3,433.3 173.4,430.0 C176.5,426.7 176.9,425.6 180.0,422.3 C183.1,419.0 187.7,413.8 192.1,410.1 C196.5,406.4 201.6,402.9 206.3,400.0 C211.0,397.1 215.8,395.4 220.5,393.0 C225.2,390.6 230.3,387.9 234.7,385.9 C239.1,383.9 242.4,382.7 246.8,380.8 C251.2,378.9 256.3,376.6 261.0,374.7 C265.7,372.8 270.7,370.9 275.1,369.3 C279.5,367.7 283.2,366.5 287.3,365.2 C291.4,363.9 295.2,362.8 300.0,361.4 C304.8,359.9 310.8,357.8 316.2,356.5 C321.6,355.2 327.7,354.4 332.4,353.5 C337.1,352.6 339.8,351.5 344.5,351.0 C349.2,350.5 354.6,350.7 360.7,350.4 C366.8,350.1 374.9,349.7 381.0,349.4 C387.1,349.1 392.4,348.6 397.2,348.8 C402.0,349.0 405.5,350.0 410.0,350.4 C414.5,350.8 420.1,350.5 424.2,351.4 C428.2,352.2 429.9,353.5 434.3,355.5 C438.7,357.5 446.1,360.9 450.5,363.6 C454.9,366.3 457.9,368.8 460.6,371.7 C463.3,374.6 465.2,377.1 466.7,380.8 C468.1,384.5 468.8,389.8 469.3,394.0 C469.8,398.2 469.8,402.4 469.7,406.1 C469.6,409.8 469.9,413.2 468.7,416.2 C467.5,419.2 464.2,421.7 462.6,424.3 C461.0,426.9 459.9,429.6 459.0,432.0 C458.1,434.4 458.3,436.2 457.1,438.6 C455.9,441.0 454.1,442.8 451.7,446.3 C449.3,449.8 446.2,455.1 442.9,459.5 C439.6,463.9 435.7,468.6 431.9,472.6 C428.1,476.6 423.8,480.2 420.0,483.6 C416.2,487.0 413.1,489.6 409.3,492.8 C405.5,496.0 401.9,499.5 397.2,502.9 C392.5,506.3 387.1,510.0 381.0,513.0 C374.9,516.0 367.4,518.2 360.7,521.1 C353.9,524.0 347.2,527.5 340.5,530.2 C333.8,532.9 326.9,534.9 320.2,537.3 C313.4,539.7 306.9,542.4 300.0,544.4 C293.1,546.4 283.2,548.3 279.0,549.4 C274.8,550.5 275.7,550.7 275.0,551.0" stroke="#3ee2ea"/>
<path d="M226.6,435.5 C231.6,433.7 235.6,432.8 240.7,431.4 C245.8,430.0 251.8,428.6 256.9,427.3 C262.0,426.0 266.4,425.0 271.1,423.3 C275.8,421.6 280.5,418.9 285.3,417.2 C290.1,415.5 295.5,414.2 300.0,413.2 C304.5,412.2 308.1,411.4 312.1,411.2 C316.2,411.0 320.9,411.3 324.3,411.8 C327.7,412.3 330.0,412.8 332.4,414.2 C334.8,415.6 337.0,418.1 338.5,420.3 C340.0,422.5 340.9,424.9 341.5,427.3 C342.1,429.8 342.2,433.2 342.0,435.0 C341.8,436.8 341.4,435.9 340.5,438.1 C339.6,440.3 337.8,444.8 336.4,448.2 C335.0,451.6 335.1,454.2 332.4,458.3 C329.7,462.4 324.2,468.4 320.2,472.5 C316.1,476.6 311.5,480.1 308.1,482.6 C304.7,485.1 303.5,485.7 300.0,487.7 C296.5,489.7 291.8,492.1 287.3,494.8 C282.8,497.5 278.2,501.4 273.1,503.9 C268.0,506.4 262.3,508.5 256.9,510.0 C251.5,511.5 246.8,512.3 240.7,513.0 C234.6,513.7 226.6,514.3 220.5,514.0 C214.4,513.7 209.4,512.5 204.3,511.0 C199.2,509.5 194.0,507.7 190.1,504.9 C186.2,502.1 182.9,498.1 181.0,494.0 C179.1,489.9 178.4,484.8 178.5,480.0 C178.6,475.2 179.9,468.9 181.5,465.0 C183.1,461.1 185.0,459.1 188.1,456.3 C191.2,453.5 196.5,450.6 200.2,448.2 C203.9,445.8 206.0,444.2 210.4,442.1 C214.8,440.0 221.6,437.3 226.6,435.5Z" stroke="#3ee2ea"/>
<path d="M85.5,550.0 C85.1,548.0 84.1,542.4 83.3,538.3 C82.5,534.2 81.1,529.3 80.6,525.3 C80.1,521.3 80.0,518.5 80.2,514.2 C80.4,509.9 80.8,503.4 81.5,499.4 C82.2,495.4 82.9,493.2 84.3,490.1 C85.7,487.0 88.6,483.3 89.8,480.8 C91.0,478.3 90.5,478.0 91.7,475.2 C93.0,472.4 94.8,467.8 97.3,464.1 C99.8,460.4 102.8,456.7 106.5,453.0 C110.2,449.3 116.0,444.8 119.5,441.9 C123.0,439.0 124.5,438.3 127.8,435.5 C131.1,432.7 135.8,427.7 139.0,425.3 C142.2,422.9 144.1,422.4 147.0,421.3 C149.9,420.2 153.5,419.8 156.2,418.6 C158.9,417.4 160.8,415.2 163.2,414.2 C165.5,413.2 167.5,413.6 170.3,412.6 C173.1,411.7 176.7,409.8 180.0,408.5 C183.3,407.2 186.7,406.2 190.1,405.1 C193.5,404.0 196.5,402.9 200.2,402.0 C203.9,401.1 208.3,400.3 212.4,399.6 C216.5,398.9 220.4,398.3 224.5,398.0 C228.6,397.7 233.3,398.0 236.7,398.0 C240.1,398.0 241.8,398.4 244.8,398.0 C247.8,397.6 251.5,395.7 254.9,395.6 C258.3,395.5 261.6,397.4 265.0,397.6 C268.4,397.8 271.7,397.1 275.1,397.0 C278.5,396.9 281.2,396.8 285.3,397.0 C289.4,397.2 295.5,397.8 300.0,398.2 C304.5,398.6 309.1,398.8 312.1,399.6 C315.1,400.4 315.5,402.2 318.2,403.1 C320.9,404.0 325.3,404.3 328.3,405.1 C331.3,405.9 334.4,406.5 336.4,407.7 C338.4,408.9 338.5,410.4 340.5,412.2 C342.5,414.0 346.2,416.9 348.6,418.6 C351.0,420.3 352.7,420.5 354.7,422.3 C356.7,424.1 358.3,425.9 360.7,429.4 C363.1,432.9 366.9,439.0 368.8,443.2 C370.7,447.4 371.0,450.6 371.9,454.3 C372.8,458.0 373.7,461.0 373.9,465.4 C374.1,469.8 373.5,475.7 373.3,480.6 C373.1,485.5 372.6,491.6 372.9,494.8 C373.2,498.0 375.5,498.1 375.3,499.8 C375.1,501.5 373.1,503.0 371.9,504.9 C370.6,506.8 368.6,509.0 367.8,511.0 C367.0,513.0 368.0,514.6 366.8,517.0 C365.6,519.4 363.1,521.7 360.7,525.1 C358.3,528.5 355.1,533.4 352.6,537.3 C350.1,541.2 346.9,546.3 345.5,548.4 C344.1,550.5 344.7,549.7 344.5,550.0" stroke="#2828b0"/>
<path d="M118.7,550.0 C118.0,547.9 115.9,541.4 114.7,537.3 C113.5,533.1 112.3,529.5 111.6,525.1 C110.9,520.7 110.3,516.0 110.6,511.0 C110.9,505.9 111.9,500.2 113.6,494.8 C115.3,489.4 117.8,483.2 120.7,478.6 C123.6,474.0 126.9,470.8 130.9,467.4 C135.0,464.0 139.9,460.8 145.0,458.3 C150.1,455.8 155.4,453.9 161.2,452.3 C167.0,450.7 173.4,449.7 180.0,448.5 C186.6,447.3 194.1,445.3 200.8,445.0 C207.6,444.7 213.8,445.3 220.5,446.5 C227.2,447.7 234.6,449.7 240.7,452.3 C246.8,454.9 252.2,458.3 256.9,462.4 C261.6,466.4 266.1,471.9 269.1,476.6 C272.1,481.3 274.1,485.6 275.1,490.7 C276.1,495.8 276.1,501.5 275.1,506.9 C274.1,512.3 271.8,518.0 269.1,523.1 C266.4,528.2 262.3,533.1 258.9,537.3 C255.5,541.5 250.7,546.3 248.8,548.4 C247.0,550.5 248.0,549.7 247.8,550.0" stroke="#2828b0"/>
<path d="M180.0,469.0 C184.5,467.8 188.0,466.8 192.1,467.4 C196.2,468.0 200.6,470.3 204.3,472.5 C208.0,474.7 211.7,477.6 214.4,480.6 C217.1,483.6 219.3,487.3 220.5,490.7 C221.7,494.1 221.8,496.8 221.5,500.9 C221.2,504.9 220.3,510.6 218.5,515.0 C216.7,519.4 213.5,523.8 210.4,527.2 C207.3,530.6 203.9,533.3 200.2,535.3 C196.5,537.3 191.5,538.5 188.1,539.3 C184.7,540.1 184.5,540.3 180.0,540.3 C175.5,540.3 166.3,540.5 161.2,539.3 C156.0,538.1 152.5,535.9 149.1,533.2 C145.7,530.5 142.7,526.8 141.0,523.1 C139.3,519.4 138.7,515.7 139.0,511.0 C139.3,506.3 140.7,499.5 143.0,494.8 C145.3,490.1 149.4,486.0 153.1,482.6 C156.8,479.2 160.8,476.8 165.3,474.5 C169.8,472.2 175.5,470.2 180.0,469.0Z" stroke="#2828b0"/>
<path d="M285.0,317.0 C284.7,317.7 284.2,319.2 283.2,321.1 C282.2,323.0 280.9,325.7 279.2,328.2 C277.5,330.7 275.5,332.8 273.1,336.3 C270.7,339.8 267.7,345.2 265.0,349.4 C262.3,353.6 259.6,357.2 256.9,361.6 C254.2,366.0 251.5,371.0 248.8,375.7 C246.1,380.4 243.0,385.5 240.7,389.9 C238.3,394.3 237.4,397.6 234.7,402.0 C232.0,406.4 228.2,410.8 224.5,416.2 C220.8,421.6 215.3,430.0 212.4,434.5 C209.5,439.0 207.6,440.7 207.0,443.0 C206.4,445.3 206.3,446.6 209.0,448.5 C211.7,450.4 218.5,452.6 223.3,454.4 C228.1,456.2 233.4,458.2 238.0,459.5 C242.6,460.8 245.4,461.6 250.9,462.2 C256.4,462.8 262.9,463.3 271.1,463.2 C279.3,463.1 293.2,461.7 300.0,461.4 C306.8,461.1 308.1,461.9 312.1,461.4 C316.2,460.9 319.6,459.5 324.3,458.3 C329.0,457.1 335.4,455.8 340.5,454.3 C345.6,452.8 350.0,450.9 354.7,449.2 C359.4,447.5 364.4,445.9 368.8,444.2 C373.2,442.5 377.6,440.1 381.0,439.1 C384.4,438.1 386.1,439.1 389.1,438.1 C392.1,437.1 396.2,434.4 399.2,433.0 C402.2,431.6 404.0,430.8 407.3,429.4 C410.6,428.0 413.6,426.8 418.8,424.4 C424.0,422.0 433.0,417.9 438.3,415.2 C443.6,412.5 446.4,410.1 450.5,408.1 C454.6,406.1 459.4,405.0 462.6,403.1 C465.8,401.2 467.7,398.4 469.7,397.0 C471.7,395.6 472.3,395.2 474.8,394.4 C477.3,393.5 481.9,393.1 484.9,391.9 C487.9,390.6 490.1,389.0 493.0,386.9 C495.9,384.8 499.4,381.3 502.1,379.4 C504.8,377.5 506.2,377.5 509.2,375.7 C512.2,373.9 517.8,370.1 520.3,368.6 C522.8,367.1 523.4,366.9 524.0,366.5" stroke="#d03434"/>
<path d="M318.0,317.0 C317.5,317.9 318.2,318.4 315.2,322.1 C312.2,325.8 305.0,333.7 300.0,339.3 C295.0,344.9 290.1,350.1 285.3,355.5 C280.5,360.9 275.8,366.3 271.1,371.7 C266.4,377.1 262.0,382.2 256.9,387.9 C251.8,393.6 245.3,400.1 240.7,406.1 C236.0,412.1 232.0,418.9 229.0,424.0 C226.0,429.1 223.2,434.1 222.5,437.0 C221.8,439.9 221.9,440.1 224.5,441.5 C227.1,442.9 231.9,444.5 238.0,445.5 C244.1,446.5 253.8,447.4 261.0,447.6 C268.2,447.9 274.7,447.5 281.2,447.0 C287.7,446.5 293.5,446.1 300.0,444.6 C306.5,443.1 314.4,440.1 320.2,438.1 C326.0,436.1 329.9,434.6 335.0,432.5 C340.1,430.4 344.6,428.4 350.6,425.3 C356.6,422.2 364.1,418.1 370.9,414.2 C377.6,410.3 385.0,405.4 391.1,402.0 C397.2,398.6 402.5,396.5 407.3,394.0 C412.1,391.5 416.2,388.9 420.0,386.9 C423.8,384.9 425.1,385.0 430.2,381.8 C435.3,378.6 443.8,372.3 450.5,367.6 C457.2,362.9 464.6,358.1 470.7,353.5 C476.8,348.9 481.2,345.7 486.9,340.3 C492.6,334.9 501.8,325.0 505.1,321.1 C508.5,317.2 506.7,317.7 507.0,317.0" stroke="#d03434"/>
<path d="M359.0,317.0 C358.6,317.7 359.8,318.1 356.7,321.1 C353.6,324.1 346.6,330.0 340.5,335.2 C334.4,340.4 326.9,346.3 320.2,352.4 C313.4,358.5 305.8,366.1 300.0,371.7 C294.2,377.3 289.8,381.5 285.3,385.9 C280.8,390.3 276.8,394.0 273.1,398.0 C269.4,402.0 265.4,406.4 263.0,410.1 C260.6,413.8 259.5,417.9 258.9,420.3 C258.3,422.7 258.5,423.5 259.5,424.5 C260.5,425.5 261.7,425.7 265.0,426.3 C268.3,426.9 273.4,427.9 279.2,428.4 C285.0,428.8 293.2,430.4 300.0,429.0 C306.8,427.6 313.4,423.4 320.2,420.3 C326.9,417.2 333.8,414.2 340.5,410.1 C347.2,406.1 353.9,401.1 360.7,396.0 C367.4,390.9 374.2,385.2 381.0,379.8 C387.8,374.4 394.7,369.0 401.2,363.6 C407.7,358.2 415.3,351.8 420.1,347.4 C424.9,343.0 426.8,341.7 430.2,337.3 C433.6,332.9 438.5,324.5 440.4,321.1 C442.3,317.7 441.3,317.7 441.5,317.0" stroke="#d03434"/>
</g>
<path d="M85.5,548.3 v-6.3 M85.5,319.0 v6.3 M108.5,548.3 v-6.3 M108.5,319.0 v6.3 M131.5,548.3 v-6.3 M131.5,319.0 v6.3 M154.5,548.3 v-6.3 M154.5,319.0 v6.3 M177.5,548.3 v-12.5 M177.5,319.0 v12.5 M200.5,548.3 v-6.3 M200.5,319.0 v6.3 M223.5,548.3 v-6.3 M223.5,319.0 v6.3 M246.5,548.3 v-6.3 M246.5,319.0 v6.3 M269.5,548.3 v-6.3 M269.5,319.0 v6.3 M292.5,548.3 v-12.5 M292.5,319.0 v12.5 M315.5,548.3 v-6.3 M315.5,319.0 v6.3 M338.5,548.3 v-6.3 M338.5,319.0 v6.3 M360.5,548.3 v-6.3 M360.5,319.0 v6.3 M383.5,548.3 v-6.3 M383.5,319.0 v6.3 M406.5,548.3 v-12.5 M406.5,319.0 v12.5 M429.5,548.3 v-6.3 M429.5,319.0 v6.3 M452.5,548.3 v-6.3 M452.5,319.0 v6.3 M475.5,548.3 v-6.3 M475.5,319.0 v6.3 M498.5,548.3 v-6.3 M498.5,319.0 v6.3 M62.7,536.5 h6.3 M521.6,536.5 h-6.3 M62.7,525.5 h6.3 M521.6,525.5 h-6.3 M62.7,513.5 h6.3 M521.6,513.5 h-6.3 M62.7,502.5 h6.3 M521.6,502.5 h-6.3 M62.7,490.5 h12.5 M521.6,490.5 h-12.5 M62.7,479.5 h6.3 M521.6,479.5 h-6.3 M62.7,468.5 h6.3 M521.6,468.5 h-6.3 M62.7,456.5 h6.3 M521.6,456.5 h-6.3 M62.7,445.5 h6.3 M521.6,445.5 h-6.3 M62.7,433.5 h12.5 M521.6,433.5 h-12.5 M62.7,422.5 h6.3 M521.6,422.5 h-6.3 M62.7,410.5 h6.3 M521.6,410.5 h-6.3 M62.7,399.5 h6.3 M521.6,399.5 h-6.3 M62.7,387.5 h6.3 M521.6,387.5 h-6.3 M62.7,376.5 h12.5 M521.6,376.5 h-12.5 M62.7,364.5 h6.3 M521.6,364.5 h-6.3 M62.7,353.5 h6.3 M521.6,353.5 h-6.3 M62.7,341.5 h6.3 M521.6,341.5 h-6.3 M62.7,330.5 h6.3 M521.6,330.5 h-6.3" stroke="#111" stroke-width="1.0" fill="none"/>
<rect x="62.7" y="319.0" width="458.9" height="229.3" fill="none" stroke="#000" stroke-width="1.4"/>
<text x="28.75" y="325.4" style="font-family:'Liberation Serif',serif;font-size:20px" textLength="22.50" lengthAdjust="spacingAndGlyphs">10</text>
<text x="39.75" y="382.8" style="font-family:'Liberation Serif',serif;font-size:20px" textLength="11.24" lengthAdjust="spacingAndGlyphs">5</text>
<text x="40.00" y="440.2" style="font-family:'Liberation Serif',serif;font-size:20px" textLength="11.11" lengthAdjust="spacingAndGlyphs">0</text>
<text x="25.10" y="497.7" style="font-family:'Liberation Serif',serif;font-size:20px" textLength="25.34" lengthAdjust="spacingAndGlyphs"><tspan style="stroke:#000;stroke-width:0.3px">−</tspan>5</text>
<text x="13.00" y="555.1" style="font-family:'Liberation Serif',serif;font-size:20px" textLength="37.95" lengthAdjust="spacingAndGlyphs"><tspan style="stroke:#000;stroke-width:0.3px">−</tspan>10</text>
<text x="44.00" y="572.4" style="font-family:'Liberation Serif',serif;font-size:20px" textLength="38.23" lengthAdjust="spacingAndGlyphs"><tspan style="stroke:#000;stroke-width:0.3px">−</tspan>20</text>
<text x="159.00" y="572.4" style="font-family:'Liberation Serif',serif;font-size:20px" textLength="38.23" lengthAdjust="spacingAndGlyphs"><tspan style="stroke:#000;stroke-width:0.3px">−</tspan>10</text>
<text x="286.80" y="572.4" style="font-family:'Liberation Serif',serif;font-size:20px" textLength="11.33" lengthAdjust="spacingAndGlyphs">0</text>
<text x="395.90" y="572.4" style="font-family:'Liberation Serif',serif;font-size:20px" textLength="23.33" lengthAdjust="spacingAndGlyphs">10</text>
<text x="510.30" y="572.4" style="font-family:'Liberation Serif',serif;font-size:20px" textLength="23.58" lengthAdjust="spacingAndGlyphs">20</text>
<text x="254.2" y="589.3" style="font-family:'Liberation Serif',serif;font-size:21px" textLength="75.2" lengthAdjust="spacing">X (kpc)</text>
<text transform="translate(16.2,471.3) rotate(-90)" x="0" y="0" style="font-family:'Liberation Serif',serif;font-size:21px" textLength="75.2" lengthAdjust="spacing">Y (kpc)</text>
<circle cx="200.6" cy="433.6" r="10.3" fill="#fff" stroke="#000" stroke-width="2.6"/>
<circle cx="200.6" cy="433.6" r="2.2" fill="#000"/>
<path d="M280.3,433.6 H304 M292.2,421.9 V444.7" stroke="#000" stroke-width="2.2"/>
<path d="M90.4,529.2 L121.7,501.9" stroke="#000" stroke-width="1"/>
<path d="M106.2,504.6 L109.0,512.0 L116.9,512.3 L110.7,517.3 L112.8,524.9 L106.2,520.5 L99.6,524.9 L101.7,517.3 L95.5,512.3 L103.4,512.0Z" fill="#fff" stroke="#000" stroke-width="2.3" stroke-linejoin="miter" stroke-miterlimit="2.2"/>
<text x="429.90" y="493.3" style="font-family:'Liberation Serif',serif;font-size:14px;fill:#cc2626;stroke:#cc2626;stroke-width:0.3px" textLength="41.31" lengthAdjust="spacingAndGlyphs">UCAC4</text>
<text x="478.20" y="493.3" style="font-family:'Liberation Serif',serif;font-size:14px;fill:#cc2626;stroke:#cc2626;stroke-width:0.3px" textLength="18.97" lengthAdjust="spacingAndGlyphs">PM</text>
<text x="430.40" y="511.7" style="font-family:'Liberation Serif',serif;font-size:14px;fill:#38e4ec;stroke:#38e4ec;stroke-width:0.3px" textLength="42.79" lengthAdjust="spacingAndGlyphs">PPMXL</text>
<text x="478.50" y="511.7" style="font-family:'Liberation Serif',serif;font-size:14px;fill:#38e4ec;stroke:#38e4ec;stroke-width:0.3px" textLength="18.66" lengthAdjust="spacingAndGlyphs">PM</text>
<text x="430.90" y="529.7" style="font-family:'Liberation Serif',serif;font-size:14px;fill:#1414c4;stroke:#1414c4;stroke-width:0.3px" textLength="50.27" lengthAdjust="spacingAndGlyphs">cPPMXL</text>
<text x="486.90" y="529.7" style="font-family:'Liberation Serif',serif;font-size:14px;fill:#1414c4;stroke:#1414c4;stroke-width:0.3px" textLength="18.23" lengthAdjust="spacingAndGlyphs">PM</text>
</svg></body></html>
